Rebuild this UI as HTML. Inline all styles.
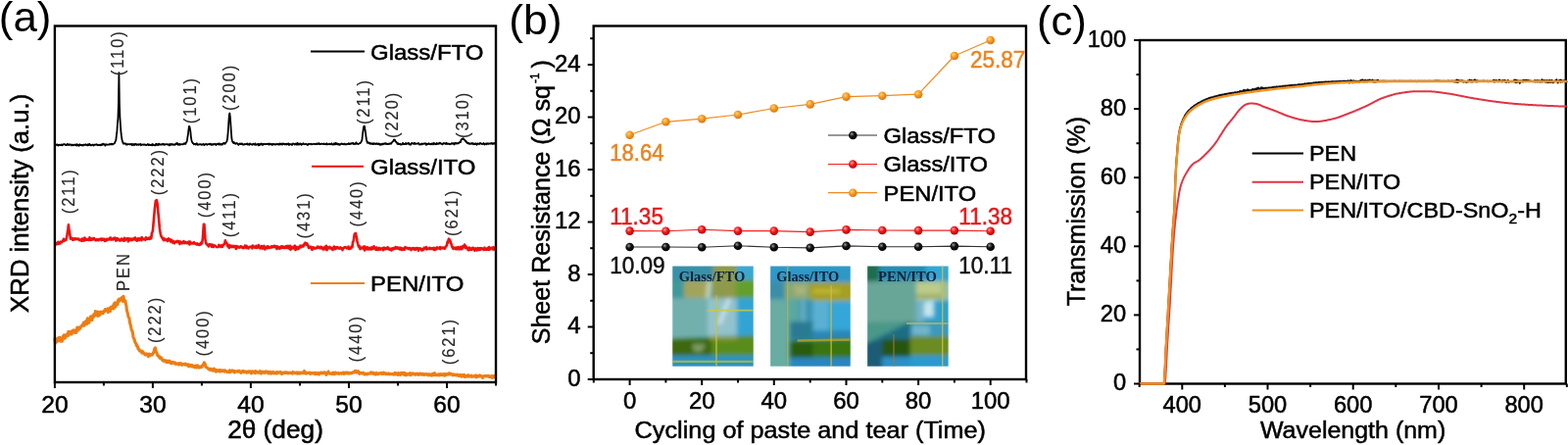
<!DOCTYPE html>
<html><head><meta charset="utf-8"><title>Figure</title>
<style>
html,body{margin:0;padding:0;background:#fff;}
body{width:1600px;height:454px;overflow:hidden;}
svg{display:block;font-family:"Liberation Sans", Arial, sans-serif;}
</style></head>
<body>
<svg width="1600" height="454" viewBox="0 0 1600 454">
<rect width="1600" height="454" fill="#fff"/>
<g fill="none" stroke-linejoin="round">
<polyline points="55.9,344.7 56.4,350.1 56.9,345.6 57.4,347.1 57.9,346.9 58.4,348.6 58.9,345.5 59.4,347.6 59.9,344.6 60.4,347.4 60.9,344.2 61.4,344.7 61.9,348.1 62.4,345.4 62.9,344.9 63.4,348.1 63.9,344.9 64.4,342.8 64.9,345.1 65.4,341.8 65.9,345.2 66.4,345.1 66.9,342 67.4,341.7 67.9,342.7 68.4,342.2 68.9,340.4 69.4,342.6 69.9,338.2 70.4,340.5 70.9,340.3 71.4,340.3 71.9,340.9 72.4,338.2 72.9,340.9 73.4,339.4 73.9,338.4 74.4,337 74.9,337 75.4,339.3 75.9,336.9 76.4,338.1 76.9,339.3 77.4,338.8 77.9,339.2 78.4,335.8 78.9,334 79.4,337 79.9,335.4 80.4,336.2 80.9,334 81.4,335.4 81.9,334.4 82.4,333.8 82.9,333 83.4,332.4 83.9,331.7 84.4,331.2 84.9,332 85.4,329.1 85.9,332.3 86.4,328.9 86.9,330.2 87.4,328.1 87.9,327.5 88.4,330.8 88.9,326.7 89.4,324.8 89.9,325.3 90.4,325.6 90.9,329.2 91.4,325.7 91.9,326.6 92.4,323.1 92.9,324.9 93.4,325.1 93.9,326.5 94.4,322.2 94.9,323.9 95.4,323.1 95.9,320.6 96.4,321.9 96.9,321.1 97.4,317.5 97.9,321.8 98.4,321.5 98.9,319.7 99.4,318.1 99.9,322.4 100.4,320.3 100.9,321.3 101.4,321.7 101.9,318.4 102.4,320.3 102.9,318.4 103.4,318.5 103.9,318.3 104.4,318.2 104.9,319.8 105.4,318 105.9,317.4 106.4,317 106.9,317.8 107.4,315.6 107.9,316 108.4,316.5 108.9,315.5 109.4,315.9 109.9,314.8 110.4,318.6 110.9,317.2 111.4,315.4 111.9,314.3 112.4,317.5 112.9,314.2 113.4,313.2 113.9,313.4 114.4,313.1 114.9,314.5 115.4,311.9 115.9,314.9 116.4,309.8 116.9,312 117.4,308.9 117.9,313 118.4,309.3 118.9,309.3 119.4,310.6 119.9,310.7 120.4,306.5 120.9,307.3 121.4,305.2 121.9,307.2 122.4,306.3 122.9,305.5 123.4,304.5 123.9,304.5 124.4,303.5 124.9,305.1 125.4,307.3 125.9,302.3 126.4,305.8 126.9,305.9 127.4,307.9 127.9,306.8 128.4,310.4 128.9,311.8 129.4,316.5 129.9,318.3 130.4,320 130.9,322.7 131.4,324 131.9,324.6 132.4,328.8 132.9,330.5 133.4,332.1 133.9,335.1 134.4,337.2 134.9,337.4 135.4,339.6 135.9,343.3 136.4,345.2 136.9,345.7 137.4,347.4 137.9,349.3 138.4,350.3 138.9,350.5 139.4,352.5 139.9,352.5 140.4,353.4 140.9,355.7 141.4,355.6 141.9,356.9 142.4,357.8 142.9,358.2 143.4,357.8 143.9,358.3 144.4,358.1 144.9,360.1 145.4,359.7 145.9,358.9 146.4,359.9 146.9,360.7 147.4,360.8 147.9,361.9 148.4,362 148.9,361 149.4,361.5 149.9,360.9 150.4,362 150.9,362.1 151.4,363.7 151.9,362.3 152.4,361.1 152.9,362 153.4,362.5 153.9,361.8 154.4,361.9 154.9,361.9 155.4,361.9 155.9,361.1 156.4,359.9 156.9,359.6 157.4,357.1 157.9,355.5 158.4,354.8 158.9,356.8 159.4,359.5 159.9,359.7 160.4,361.6 160.9,362.8 161.4,362.8 161.9,363.5 162.4,363.3 162.9,365.2 163.4,365.5 163.9,365.5 164.4,364.8 164.9,365.5 165.4,367 165.9,367.8 166.4,367.3 166.9,368.2 167.4,367.5 167.9,368.1 168.4,368.5 168.9,368.8 169.4,367.9 169.9,369.3 170.4,369.6 170.9,368.4 171.4,368.4 171.9,369.4 172.4,368.9 172.9,368.1 173.4,369.9 173.9,369.6 174.4,369.4 174.9,370.9 175.4,369.9 175.9,369.5 176.4,370.1 176.9,369.5 177.4,369.8 177.9,370.5 178.4,370 178.9,370.2 179.4,371.4 179.9,371.1 180.4,371.1 180.9,371.1 181.4,371.1 181.9,371.7 182.4,371 182.9,372.1 183.4,370.7 183.9,371.1 184.4,370.6 184.9,371.2 185.4,371.8 185.9,372.4 186.4,371.3 186.9,371.8 187.4,371.6 187.9,371.5 188.4,371.4 188.9,372.1 189.4,371.2 189.9,372.3 190.4,372.3 190.9,372 191.4,371.9 191.9,371.8 192.4,373.7 192.9,372 193.4,373.7 193.9,373.2 194.4,372.8 194.9,372.4 195.4,373.7 195.9,374.1 196.4,372.7 196.9,373.2 197.4,374 197.9,373.7 198.4,374.6 198.9,373.3 199.4,374 199.9,373.1 200.4,375 200.9,373.5 201.4,372.8 201.9,374 202.4,374.1 202.9,375.2 203.4,374 203.9,374.2 204.4,374.5 204.9,374.9 205.4,373.9 205.9,374.3 206.4,373.6 206.9,372.6 207.4,372 207.9,370.9 208.4,369.9 208.9,371.8 209.4,371.6 209.9,374.1 210.4,374.7 210.9,374.8 211.4,374.9 211.9,375.5 212.4,376.2 212.9,376.6 213.4,376.6 213.9,377.2 214.4,376.5 214.9,377.1 215.4,376.3 215.9,377.7 216.4,377.5 216.9,377.3 217.4,378.2 217.9,378 218.4,376.2 218.9,377.8 219.4,377 219.9,378.4 220.4,379.2 220.9,377.6 221.4,378 221.9,377.9 222.4,378.2 222.9,378.4 223.4,378.8 223.9,377.6 224.4,379 224.9,377.7 225.4,378.4 225.9,378.9 226.4,378.7 226.9,377.8 227.4,378 227.9,378.2 228.4,378.4 228.9,379.1 229.4,377.8 229.9,378.8 230.4,378.9 230.9,378.9 231.4,378.9 231.9,379.5 232.4,379 232.9,379.2 233.4,379.1 233.9,379.8 234.4,377.8 234.9,379.6 235.4,378.8 235.9,378.8 236.4,378.4 236.9,378 237.4,378.8 237.9,378.7 238.4,379.3 238.9,378.3 239.4,379.9 239.9,379.3 240.4,379.1 240.9,378.8 241.4,378.8 241.9,378.6 242.4,378.9 242.9,379.3 243.4,379.2 243.9,378.5 244.4,379.1 244.9,378.8 245.4,379.4 245.9,380.3 246.4,379.7 246.9,379.2 247.4,378.5 247.9,378.6 248.4,378.5 248.9,379.8 249.4,379 249.9,379.5 250.4,379.1 250.9,379.5 251.4,380.2 251.9,379.1 252.4,379.3 252.9,379.1 253.4,380 253.9,379 254.4,378.9 254.9,378.8 255.4,378.8 255.9,379.8 256.4,381 256.9,379.1 257.4,380.1 257.9,379.8 258.4,379 258.9,379.5 259.4,379.5 259.9,379.3 260.4,380.7 260.9,378.7 261.4,379.9 261.9,379.9 262.4,379.4 262.9,379.8 263.4,380.2 263.9,379.8 264.4,380 264.9,380.2 265.4,378.7 265.9,380.6 266.4,381 266.9,380.4 267.4,380.4 267.9,379.1 268.4,379.8 268.9,379.4 269.4,379.6 269.9,380.4 270.4,379.5 270.9,379.9 271.4,378.9 271.9,379.9 272.4,380 272.9,379.6 273.4,379.6 273.9,381 274.4,379.4 274.9,379.5 275.4,379.6 275.9,380.7 276.4,381.2 276.9,380.3 277.4,379.7 277.9,379.9 278.4,380.7 278.9,379.6 279.4,380.9 279.9,380.9 280.4,380.2 281,380.5 281.5,380.6 282,381 282.5,379.6 283,380.8 283.5,380 284,379.8 284.5,380.3 285,380.2 285.5,379.8 286,379.4 286.5,379.8 287,381.1 287.5,381.4 288,380.7 288.5,381 289,380.1 289.5,380.3 290,380.5 290.5,379.8 291,379.8 291.5,380.4 292,380.2 292.5,379.8 293,380.6 293.5,380.2 294,380.9 294.5,380.4 295,380.2 295.5,380.5 296,380.3 296.5,380.1 297,380.2 297.5,380.8 298,380.8 298.5,381.1 299,379.5 299.5,380.2 300,380.2 300.5,380.5 301,380.2 301.5,380.2 302,380.9 302.5,380.6 303,379.9 303.5,381.2 304,381 304.5,380.2 305,380.9 305.5,380.1 306,381.1 306.5,380.4 307,380.1 307.5,380.3 308,380.1 308.5,380.6 309,380.6 309.5,380.6 310,380.3 310.5,378.6 311,380.6 311.5,379.6 312,380.7 312.5,381.2 313,380.7 313.5,380.4 314,380.5 314.5,380.5 315,380.3 315.5,380.3 316,380.1 316.5,381.3 317,380.6 317.5,381.2 318,380.5 318.5,380.7 319,380.6 319.5,380.9 320,381.1 320.5,380.8 321,380.3 321.5,380.3 322,381.6 322.5,380.6 323,380.6 323.5,381.5 324,381.3 324.5,381 325,380.5 325.5,382 326,381 326.5,381 327,380.7 327.5,380 328,380.1 328.5,381 329,381 329.5,380.7 330,380.2 330.5,380 331,380.6 331.5,380 332,381.3 332.5,381.4 333,382.3 333.5,381.3 334,380.5 334.5,380.4 335,379 335.5,380.5 336,380.7 336.5,381.3 337,381.2 337.5,381.1 338,381 338.5,381.2 339,381.6 339.5,380.3 340,380.6 340.5,380.1 341,381.7 341.5,381.5 342,381.3 342.5,380.2 343,381 343.5,380.7 344,380.9 344.5,380.8 345,381.1 345.5,380.7 346,381.3 346.5,381 347,380.7 347.5,380.8 348,380.7 348.5,381.3 349,380.7 349.5,381 350,380.7 350.5,380.1 351,381.4 351.5,380.3 352,381.2 352.5,381.1 353,380 353.5,380.4 354,380.6 354.5,380.4 355,380.2 355.5,381.2 356,380.7 356.5,381 357,380.5 357.5,380.9 358,380.3 358.5,380.6 359,380.8 359.5,380.4 360,380 360.5,379.5 361,379.9 361.5,379.6 362,378.9 362.5,378.3 363,378.8 363.5,380 364,378.9 364.5,379.6 365,380 365.5,378.7 366,380.3 366.5,380.1 367,381.3 367.5,380.5 368,380.3 368.5,380.7 369,380.9 369.5,380.6 370,380.9 370.5,380.2 371,380.8 371.5,381.4 372,382 372.5,381.4 373,381.1 373.5,381.6 374,381.6 374.5,381.9 375,381.6 375.5,381 376,381.2 376.5,381.2 377,381.2 377.5,381.2 378,380.7 378.5,380 379,380.8 379.5,380.1 380,381.2 380.5,381.1 381,380.3 381.5,381.5 382,381.6 382.5,381.2 383,382 383.5,382.1 384,380.5 384.5,381.7 385,381.4 385.5,381.4 386,381.7 386.5,380.8 387,380.9 387.5,380.8 388,380.8 388.5,381.1 389,380.5 389.5,380.7 390,381.5 390.5,381.2 391,381.4 391.5,380.2 392,380.8 392.5,380.9 393,381.3 393.5,380.9 394,381.7 394.5,381.2 395,381.3 395.5,381.3 396,381.6 396.5,381 397,381.8 397.5,381.5 398,381.4 398.5,381.3 399,381.6 399.5,381.8 400,381.8 400.5,381.5 401,381.8 401.5,381.4 402,382 402.5,381.3 403,380.3 403.5,382 404,381.4 404.5,380.8 405,381.3 405.5,380.9 406,382.5 406.5,381.7 407,380.6 407.5,381.7 408,381.2 408.5,382.4 409,380.9 409.5,380.3 410,381.5 410.5,381.3 411,381.3 411.5,380.4 412,381.7 412.5,382.4 413,380.5 413.5,382.1 414,381.2 414.5,382.8 415,381.8 415.5,381.5 416,382.1 416.5,381.9 417,381.3 417.5,382 418,381.3 418.5,380.7 419,382.7 419.5,381.5 420,381.3 420.5,381.8 421,380.9 421.5,381 422,381.4 422.5,381.4 423,381.7 423.5,382.3 424,381.5 424.5,382 425,382 425.5,381.2 426,381.9 426.5,381.3 427,382.3 427.5,382 428,381.8 428.5,381.1 429,381.9 429.5,381.4 430,382.2 430.5,381.8 431,381.4 431.5,382.3 432,382.2 432.5,381.6 433,382.5 433.5,381.7 434,381.7 434.5,382 435,381.5 435.5,381.7 436,381.8 436.5,382.7 437,382.7 437.5,381.8 438,382.8 438.5,381.9 439,382.2 439.5,382.4 440,382.1 440.5,383.2 441,382.1 441.5,381.4 442,382.7 442.5,381.9 443,381.9 443.5,380.6 444,382.6 444.5,382.5 445,382.6 445.5,382.7 446,383 446.5,382.2 447,382.7 447.5,381.8 448,382.1 448.5,382.8 449,382.5 449.5,381.6 450,382.5 450.5,382.2 451,381.9 451.5,382.5 452,382.1 452.5,381.5 453,381.8 453.5,383.2 454,381.5 454.5,382.4 455,382.6 455.5,382.5 456,381.5 456.5,381.8 457,381.9 457.5,382.1 458,381.1 458.5,380.7 459,381.7 459.5,381.9 460,381.7 460.5,381.5 461,382.2 461.5,382.2 462,382.8 462.5,381.8 463,382.6 463.5,382.5 464,382.1 464.5,382.8 465,382.8 465.5,382.6 466,383 466.5,382.1 467,382.9 467.5,383.1 468,383.1 468.5,383.5 469,382.4 469.5,382.3 470,383.2 470.5,383.3 471,384.2 471.5,383.4 472,382.7 472.5,383.6 473,382.7 473.5,382.4 474,384.5 474.5,383.4 475,383.6 475.5,383.6 476,384.2 476.5,383.4 477,383.9 477.5,382.8 478,382.7 478.5,384.1 479,384.1 479.5,383.7 480,383.6 480.5,383.5 481,383.1 481.5,384.3 482,383.8 482.5,383.8 483,383.7 483.5,384.1 484,383.8 484.5,384 485,383 485.5,383.9 486,384.8 486.5,383.4 487,383.6 487.5,384.2 488,384.2 488.5,384.1 489,383 489.5,384 490,383.2 490.5,383.4 491,384.1 491.5,383.7 492,384.3 492.5,385.5 493,384.3 493.5,384.3 494,383.5 494.5,383.7 495,383.5 495.5,383.7 496,383.5 496.5,383.7 497,384 497.5,383.6 498,383.4 498.5,383.4 499,384.4 499.5,384.2 500,384.7 500.5,384.7 501,384 501.5,384.6 502,383.5 502.5,385.4 503,384.9 503.5,384.2 504,383.7 504.5,384.5 505,383.4 505.5,384 506,384.8" stroke="#ee7d12" stroke-width="3.1"/>
<polyline points="55.9,250.3 56.4,249.9 56.9,248 57.4,248.7 57.9,248.1 58.4,248 58.9,249.1 59.4,246.7 59.9,248.5 60.4,247.5 60.9,248.6 61.4,247.5 61.9,246.7 62.4,247.2 62.9,247.3 63.4,246.4 63.9,246.5 64.4,245.4 64.9,243.8 65.4,245.8 65.9,245.3 66.4,244.7 66.9,244.4 67.4,244.8 67.9,242.7 68.4,240.4 68.9,236.9 69.4,233.5 69.9,229.4 70.4,233.4 70.9,236.3 71.4,239.7 71.9,243.6 72.4,243.2 72.9,242.5 73.4,243.4 73.9,244.5 74.4,244.7 74.9,243.4 75.4,244.1 75.9,244.4 76.4,243.3 76.9,244.2 77.4,243.9 77.9,243.5 78.4,243.6 78.9,244.1 79.4,244 79.9,243.6 80.4,243.7 80.9,245 81.4,244.3 81.9,244.8 82.4,245.1 82.9,244.6 83.4,245.9 83.9,243.5 84.4,244.8 84.9,243.9 85.4,245.6 85.9,245.5 86.4,242.6 86.9,243.4 87.4,244.7 87.9,244.8 88.4,244.8 88.9,244.1 89.4,244.6 89.9,244.7 90.4,244.1 90.9,245 91.4,242.4 91.9,244.7 92.4,243.4 92.9,245 93.4,244 93.9,243.5 94.4,244.5 94.9,243.5 95.4,243.5 95.9,243 96.4,244.2 96.9,244.6 97.4,245.1 97.9,244.1 98.4,245.1 98.9,244.3 99.4,244.2 99.9,244.7 100.4,245.1 100.9,244 101.4,244.1 101.9,244.1 102.4,244.3 102.9,243.5 103.4,245.1 103.9,243.9 104.4,244.6 104.9,243.6 105.4,244.6 105.9,244.6 106.4,243.9 106.9,245.9 107.4,244.6 107.9,245.7 108.4,245.1 108.9,243.8 109.4,244 109.9,244.6 110.4,244.3 110.9,244.3 111.4,244.1 111.9,242.8 112.4,244.1 112.9,242.5 113.4,244.6 113.9,243.7 114.4,243.7 114.9,244.1 115.4,244.5 115.9,243.2 116.4,242.9 116.9,243.5 117.4,242.7 117.9,243.5 118.4,245.6 118.9,243.5 119.4,244.8 119.9,243.2 120.4,244.6 120.9,244.1 121.4,244.3 121.9,244.8 122.4,245.7 122.9,244.5 123.4,244.4 123.9,243.5 124.4,244.8 124.9,244.1 125.4,245 125.9,244.3 126.4,245.7 126.9,242.7 127.4,244.1 127.9,245 128.4,244 128.9,243.7 129.4,244.1 129.9,243.2 130.4,244.4 130.9,246.3 131.4,245.2 131.9,243.4 132.4,243.6 132.9,244 133.4,245.1 133.9,243.6 134.4,243.7 134.9,245 135.4,245 135.9,244 136.4,243.4 136.9,243 137.4,243.7 137.9,242.5 138.4,244.9 138.9,243.8 139.4,244.6 139.9,245.7 140.4,245.2 140.9,243.3 141.4,244.9 141.9,245.1 142.4,243.6 142.9,243.4 143.4,244.1 143.9,242.9 144.4,245.3 144.9,242.2 145.4,243.2 145.9,243.9 146.4,243.9 146.9,244.2 147.4,244.2 147.9,243.8 148.4,244.8 148.9,242.2 149.4,243.8 149.9,243.2 150.4,243.8 150.9,243.8 151.4,242.8 151.9,242.9 152.4,243.9 152.9,243.3 153.4,242 153.9,243.5 154.4,242.6 154.9,238 155.4,237 155.9,235.4 156.4,229.8 156.9,224.4 157.4,218.6 157.9,212.9 158.4,208.4 158.9,204.8 159.4,204.4 159.9,204.2 160.4,206.8 160.9,210.4 161.4,216.6 161.9,221.5 162.4,227.3 162.9,232.9 163.4,236.1 163.9,239 164.4,240.8 164.9,241.9 165.4,242.6 165.9,243 166.4,244.3 166.9,243.1 167.4,245.2 167.9,244.4 168.4,243.9 168.9,244.2 169.4,244.2 169.9,245 170.4,244.4 170.9,246 171.4,244.5 171.9,243.4 172.4,244.8 172.9,243.8 173.4,245.5 173.9,246.5 174.4,246.2 174.9,244.7 175.4,245.3 175.9,247.4 176.4,246.3 176.9,246.1 177.4,247 177.9,248.2 178.4,247.4 178.9,246.5 179.4,246.8 179.9,247 180.4,246.1 180.9,245.8 181.4,246.8 181.9,246.1 182.4,246.8 182.9,247 183.4,248.9 183.9,246.4 184.4,247.1 184.9,247.1 185.4,247.6 185.9,248.2 186.4,247 186.9,246.8 187.4,246.2 187.9,246.8 188.4,248.1 188.9,247.7 189.4,246.9 189.9,247.5 190.4,247.9 190.9,248.3 191.4,247.5 191.9,247.8 192.4,246.6 192.9,247.2 193.4,249.5 193.9,246.5 194.4,248 194.9,248.5 195.4,248.1 195.9,247.8 196.4,248.4 196.9,248.5 197.4,248.5 197.9,247.1 198.4,248.5 198.9,248 199.4,248.3 199.9,248.9 200.4,249.3 200.9,249.5 201.4,248.4 201.9,249.6 202.4,249.8 202.9,249.7 203.4,249.9 203.9,248.7 204.4,248.6 204.9,249.3 205.4,247.4 205.9,248.4 206.4,246.6 206.9,243.1 207.4,235 207.9,228.7 208.4,228.7 208.9,235.7 209.4,243.4 209.9,246.9 210.4,248.5 210.9,248.5 211.4,249.8 211.9,249.5 212.4,250.3 212.9,251.4 213.4,250.1 213.9,249.1 214.4,249.7 214.9,249.3 215.4,249.7 215.9,251.8 216.4,250.9 216.9,249.6 217.4,251.3 217.9,251.9 218.4,250.6 218.9,250.4 219.4,250.7 219.9,251.2 220.4,251.5 220.9,251.9 221.4,252 221.9,252 222.4,252.1 222.9,251.6 223.4,249.9 223.9,251 224.4,251.4 224.9,250.8 225.4,251.8 225.9,250.8 226.4,250.2 226.9,251.8 227.4,250.8 227.9,249.8 228.4,249.6 228.9,248.9 229.4,247.8 229.9,245.3 230.4,247 230.9,247.8 231.4,248.1 231.9,249.9 232.4,251.3 232.9,250.5 233.4,250.2 233.9,252.9 234.4,251 234.9,250.4 235.4,251.6 235.9,251.8 236.4,250.9 236.9,252.1 237.4,251.1 237.9,250.8 238.4,251.7 238.9,252.2 239.4,251 239.9,251.8 240.4,251.5 240.9,253.9 241.4,251 241.9,252.7 242.4,251.6 242.9,251.5 243.4,252.2 243.9,252.4 244.4,252.7 244.9,252 245.4,251.2 245.9,251.3 246.4,252.1 246.9,252.2 247.4,252.9 247.9,252.1 248.4,252.6 248.9,253 249.4,251.9 249.9,250.6 250.4,250.9 250.9,250.7 251.4,253.1 251.9,251.2 252.4,252.9 252.9,252.4 253.4,253.3 253.9,252.7 254.4,251.9 254.9,251.8 255.4,252 255.9,252.1 256.4,251.6 256.9,252 257.4,253.3 257.9,250.6 258.4,252.2 258.9,251.3 259.4,252.2 259.9,252.7 260.4,252 260.9,252.7 261.4,250.8 261.9,253 262.4,251.6 262.9,252.6 263.4,252.2 263.9,250 264.4,251.5 264.9,252.3 265.4,253.4 265.9,252.4 266.4,252.4 266.9,251 267.4,253.3 267.9,253.6 268.4,252.2 268.9,252 269.4,250.9 269.9,252.9 270.4,254.4 270.9,252.8 271.4,253.2 271.9,252.7 272.4,251.5 272.9,253.3 273.4,251.3 273.9,252.1 274.4,252.5 274.9,253 275.4,252.6 275.9,252.6 276.4,251.7 276.9,251.3 277.4,252.4 277.9,251.8 278.4,251.3 278.9,251.3 279.4,252 279.9,250.9 280.4,251.3 281,251.1 281.5,252.5 282,252.7 282.5,254 283,251.2 283.5,251.9 284,253.2 284.5,252.3 285,252.2 285.5,253.8 286,252.2 286.5,251.5 287,251.4 287.5,252.8 288,252.7 288.5,251.4 289,251.7 289.5,252.9 290,253 290.5,252 291,253 291.5,253 292,251.1 292.5,252.3 293,252.9 293.5,252.1 294,250.9 294.5,252.4 295,253.2 295.5,253.9 296,250.9 296.5,254.7 297,251.7 297.5,253.4 298,253.6 298.5,253.4 299,252.8 299.5,251.7 300,253.2 300.5,252.1 301,250.7 301.5,255 302,253.3 302.5,254.2 303,252 303.5,253.9 304,254 304.5,254 305,252.7 305.5,251.7 306,252.5 306.5,250.7 307,251 307.5,252.1 308,250.8 308.5,251 309,250.5 309.5,251.5 310,250.4 310.5,248.8 311,249.4 311.5,247.7 312,248.2 312.5,249.5 313,248.3 313.5,249.7 314,249.5 314.5,251.3 315,253 315.5,251.5 316,252.6 316.5,251.9 317,251.8 317.5,251.8 318,254 318.5,254.8 319,253.3 319.5,252.3 320,253.5 320.5,252.6 321,253.6 321.5,253.2 322,253.2 322.5,253.4 323,252.5 323.5,252.6 324,251.6 324.5,252.6 325,251.8 325.5,252.8 326,252.2 326.5,253 327,253.3 327.5,251.8 328,252.3 328.5,252.2 329,253.6 329.5,254.4 330,253.7 330.5,252.7 331,254.2 331.5,251.8 332,254.2 332.5,252.5 333,250.8 333.5,255.1 334,254.3 334.5,252.2 335,253.2 335.5,252.9 336,253.1 336.5,251.9 337,252.5 337.5,253.4 338,253.2 338.5,254 339,253.1 339.5,254.9 340,252.5 340.5,253.3 341,251.5 341.5,252.1 342,254.1 342.5,252.3 343,253.5 343.5,253 344,252.2 344.5,252.8 345,252.6 345.5,252.7 346,253.7 346.5,253.6 347,252.6 347.5,252.3 348,253.3 348.5,253 349,253.8 349.5,255.1 350,253.7 350.5,253 351,252.8 351.5,252.3 352,252.2 352.5,252.1 353,252.6 353.5,252.5 354,253.4 354.5,252.5 355,252.6 355.5,251.7 356,253.9 356.5,253 357,253.9 357.5,253 358,253.3 358.5,251.5 359,251.6 359.5,252 360,247 360.5,246.4 361,243.9 361.5,240.1 362,238.5 362.5,238.4 363,238 363.5,241.2 364,243 364.5,246 365,248.3 365.5,250.3 366,251.6 366.5,252.4 367,251.1 367.5,254.1 368,253.6 368.5,253.3 369,252.5 369.5,252.8 370,253.4 370.5,253.3 371,251.6 371.5,253.7 372,255.5 372.5,251.6 373,254 373.5,253.5 374,253.1 374.5,254.4 375,252.3 375.5,253.4 376,254.5 376.5,253.2 377,253 377.5,253.4 378,253 378.5,254.6 379,252.6 379.5,254.1 380,252.4 380.5,254 381,253.3 381.5,251.3 382,253.4 382.5,252.6 383,253.1 383.5,254.7 384,252.6 384.5,252.6 385,254.7 385.5,253.6 386,254.8 386.5,253.8 387,252.8 387.5,253.5 388,254.6 388.5,254.3 389,253.6 389.5,253.6 390,253.5 390.5,253.1 391,255.2 391.5,253.6 392,252.7 392.5,253.2 393,254.2 393.5,254.2 394,253.5 394.5,253.1 395,253.7 395.5,252.3 396,252.6 396.5,254.3 397,253.3 397.5,254 398,254.7 398.5,254.2 399,253.7 399.5,255.4 400,254.3 400.5,253.4 401,254.3 401.5,254.1 402,253 402.5,253.8 403,253.6 403.5,252.1 404,253.6 404.5,253.5 405,253.4 405.5,252.4 406,253.5 406.5,253.7 407,253.9 407.5,252.8 408,254.3 408.5,252.8 409,253.6 409.5,254.9 410,253.2 410.5,253.4 411,254.7 411.5,253.5 412,253.5 412.5,254 413,254.6 413.5,252 414,253.1 414.5,253 415,252.9 415.5,253.1 416,253.1 416.5,254 417,253.1 417.5,253.9 418,254.1 418.5,253.2 419,253.9 419.5,255.1 420,254.1 420.5,253.3 421,253.7 421.5,253.1 422,254 422.5,254.5 423,253.1 423.5,253.6 424,254.7 424.5,253.4 425,254 425.5,253 426,253.1 426.5,253.4 427,255.6 427.5,253.5 428,253.4 428.5,253.4 429,253.7 429.5,254.3 430,254 430.5,255.5 431,254 431.5,255 432,254 432.5,254.3 433,252.7 433.5,253.7 434,253.8 434.5,253.6 435,252.1 435.5,254.5 436,253.5 436.5,253.5 437,253.6 437.5,253.6 438,254.1 438.5,252.8 439,253.1 439.5,254 440,253.9 440.5,253.5 441,253.3 441.5,253.1 442,253.7 442.5,254.7 443,252.9 443.5,255 444,254.5 444.5,253.4 445,254.4 445.5,252.6 446,252.4 446.5,252.7 447,253.4 447.5,253.5 448,253.3 448.5,253.8 449,252 449.5,254.1 450,252.5 450.5,253.1 451,253.3 451.5,252.7 452,252.5 452.5,252.7 453,253.4 453.5,253.8 454,253.6 454.5,252 455,251.6 455.5,250.6 456,250.4 456.5,246.9 457,247.9 457.5,245 458,243.7 458.5,244.2 459,245.1 459.5,245.7 460,247.8 460.5,248.7 461,251.1 461.5,252.3 462,252.1 462.5,253.9 463,253.3 463.5,253.4 464,252.7 464.5,253.3 465,254.2 465.5,252.6 466,254.2 466.5,254 467,253.9 467.5,252 468,253.7 468.5,254.3 469,253.2 469.5,253.8 470,251.9 470.5,254.3 471,253.1 471.5,254 472,251.3 472.5,252.6 473,251.1 473.5,251.3 474,249.6 474.5,250.1 475,253.1 475.5,251.5 476,252.3 476.5,253.1 477,252.8 477.5,254.8 478,255.2 478.5,253.3 479,252.5 479.5,254.8 480,254.8 480.5,254.6 481,254.8 481.5,253.2 482,253.8 482.5,252.8 483,252.8 483.5,254.7 484,253.4 484.5,255.7 485,254 485.5,253.4 486,254.6 486.5,255.4 487,254.3 487.5,253 488,254.2 488.5,255 489,253.5 489.5,253.3 490,254.8 490.5,254.1 491,253.1 491.5,253.6 492,253.3 492.5,254.2 493,254 493.5,254.9 494,254.5 494.5,252.7 495,254.3 495.5,254.7 496,254.3 496.5,254.8 497,253.5 497.5,253.2 498,254.7 498.5,253.1 499,252.2 499.5,254.8 500,253.4 500.5,253.7 501,252.9 501.5,252.9 502,253.1 502.5,253.7 503,254.3 503.5,252.1 504,254.6 504.5,253 505,253.1 505.5,254.5 506,253.9" stroke="#f01010" stroke-width="2.6"/>
<polyline points="55.9,148 56.4,148.1 56.9,147.9 57.4,147.6 57.9,147.8 58.4,147.5 58.9,148 59.4,148.6 59.9,147.7 60.4,147.7 60.9,148.2 61.4,148.1 61.9,148 62.4,147.5 62.9,147.9 63.4,148.3 63.9,147.4 64.4,147.7 64.9,147.1 65.4,147.4 65.9,147.1 66.4,147.8 66.9,147.4 67.4,148.1 67.9,148 68.4,147.9 68.9,146.8 69.4,147.7 69.9,147.9 70.4,148 70.9,147.2 71.4,147.7 71.9,147.5 72.4,147.6 72.9,148.4 73.4,147.6 73.9,147.9 74.4,148.3 74.9,147.6 75.4,147.9 75.9,148 76.4,147.9 76.9,147.4 77.4,147.9 77.9,148.5 78.4,147.2 78.9,148.3 79.4,147.9 79.9,147.6 80.4,148.8 80.9,148.2 81.4,147.3 81.9,147.9 82.4,148.1 82.9,147.8 83.4,148.2 83.9,147.8 84.4,148.2 84.9,148.5 85.4,147.6 85.9,147.9 86.4,147.6 86.9,147.9 87.4,147.3 87.9,147.6 88.4,147.8 88.9,148.2 89.4,148.4 89.9,147.2 90.4,147.5 90.9,148.1 91.4,146.9 91.9,147.6 92.4,147.8 92.9,148.4 93.4,148.1 93.9,147.7 94.4,147.6 94.9,147.7 95.4,148.5 95.9,147.6 96.4,147.6 96.9,147.9 97.4,147.7 97.9,147.7 98.4,147.3 98.9,147.8 99.4,147.6 99.9,148.3 100.4,148 100.9,147.7 101.4,148 101.9,147.6 102.4,148.2 102.9,147.7 103.4,148 103.9,147.1 104.4,147.8 104.9,146.9 105.4,146.7 105.9,147.5 106.4,147.2 106.9,147.7 107.4,148.6 107.9,147.2 108.4,147.3 108.9,147.6 109.4,147.7 109.9,147.4 110.4,147.4 110.9,147.7 111.4,147.6 111.9,146.9 112.4,147.3 112.9,147.3 113.4,146.7 113.9,147.3 114.4,146.7 114.9,147.4 115.4,147 115.9,146.8 116.4,146.3 116.9,146.2 117.4,144.7 117.9,143.9 118.4,142.4 118.9,137.7 119.4,133.9 119.9,126.3 120.4,120.8 120.9,105.5 121.4,74.1 121.9,106 122.4,119.7 122.9,127.6 123.4,134.1 123.9,138.7 124.4,142.1 124.9,144.3 125.4,145.2 125.9,146.7 126.4,146.3 126.9,146.7 127.4,146.5 127.9,146.6 128.4,146.4 128.9,147.6 129.4,147.1 129.9,147.6 130.4,147.2 130.9,147 131.4,147.2 131.9,147.1 132.4,147.4 132.9,147.2 133.4,147.3 133.9,146.8 134.4,147.1 134.9,148.2 135.4,147.2 135.9,147 136.4,147.7 136.9,148.2 137.4,146.9 137.9,147.5 138.4,147.3 138.9,146.8 139.4,147.9 139.9,147.6 140.4,147.6 140.9,147.2 141.4,147.8 141.9,147.3 142.4,147.5 142.9,147.1 143.4,147 143.9,148.2 144.4,147.4 144.9,147.7 145.4,147.6 145.9,147.4 146.4,147.4 146.9,147.9 147.4,147.5 147.9,147.5 148.4,147.6 148.9,148.1 149.4,147.9 149.9,147.8 150.4,147.4 150.9,147 151.4,148 151.9,148 152.4,147.5 152.9,147.8 153.4,148 153.9,148 154.4,148 154.9,147.4 155.4,148.3 155.9,147 156.4,148 156.9,147.8 157.4,148 157.9,148.4 158.4,148.3 158.9,147.1 159.4,146.8 159.9,148 160.4,147.1 160.9,147.6 161.4,148 161.9,146.8 162.4,146.6 162.9,147.7 163.4,147.6 163.9,147.5 164.4,147.6 164.9,147.2 165.4,146.9 165.9,147.5 166.4,147.1 166.9,146.8 167.4,147.8 167.9,147.5 168.4,147.7 168.9,147.1 169.4,147.2 169.9,147.1 170.4,147.1 170.9,147.6 171.4,147.2 171.9,147.7 172.4,147.7 172.9,148.4 173.4,146.9 173.9,147.9 174.4,147.4 174.9,147.5 175.4,146.8 175.9,147.3 176.4,147.8 176.9,147.4 177.4,147.5 177.9,147.3 178.4,147.9 178.9,147.4 179.4,146.4 179.9,147.1 180.4,146.5 180.9,145.9 181.4,147.1 181.9,147.9 182.4,147.3 182.9,146.8 183.4,146.8 183.9,147.7 184.4,147.3 184.9,147.2 185.4,147.1 185.9,147.1 186.4,147.4 186.9,147.2 187.4,147 187.9,146.3 188.4,146.9 188.9,146.3 189.4,146.9 189.9,145.4 190.4,145 190.9,143.4 191.4,139.8 191.9,137.1 192.4,132.7 192.9,128.8 193.4,129.1 193.9,131.4 194.4,134.3 194.9,139.8 195.4,142.9 195.9,144.9 196.4,145.3 196.9,146.2 197.4,146.4 197.9,147.2 198.4,146.9 198.9,146.8 199.4,147.6 199.9,146.7 200.4,146.8 200.9,146.2 201.4,147.8 201.9,147.5 202.4,147.6 202.9,147.5 203.4,147.2 203.9,147.3 204.4,147.1 204.9,147.1 205.4,147.3 205.9,147.9 206.4,147.5 206.9,147.2 207.4,147 207.9,147 208.4,148 208.9,147.5 209.4,147.3 209.9,147.1 210.4,146.8 210.9,147.3 211.4,147.7 211.9,147.1 212.4,147.2 212.9,147.2 213.4,147.3 213.9,146.6 214.4,147.2 214.9,146.9 215.4,147.7 215.9,146.9 216.4,147.5 216.9,147.9 217.4,147.1 217.9,147 218.4,147.3 218.9,147.2 219.4,146.8 219.9,147.4 220.4,148.1 220.9,147 221.4,147 221.9,146.6 222.4,147.2 222.9,146.5 223.4,146.5 223.9,147.6 224.4,146.6 224.9,147.4 225.4,147.6 225.9,147 226.4,147 226.9,147.6 227.4,146.6 227.9,146.3 228.4,145.8 228.9,146.3 229.4,146.9 229.9,146.5 230.4,145.4 230.9,145 231.4,144.3 231.9,142.6 232.4,138.2 232.9,131.8 233.4,123.9 233.9,117.1 234.4,115.5 234.9,119.5 235.4,126.9 235.9,134.9 236.4,141.1 236.9,143.7 237.4,145 237.9,144.8 238.4,146.1 238.9,145.2 239.4,145.6 239.9,146.7 240.4,146.8 240.9,146.5 241.4,145.9 241.9,146.5 242.4,146.5 242.9,147.1 243.4,147.9 243.9,147 244.4,146.6 244.9,146.5 245.4,147 245.9,147 246.4,146.5 246.9,147.1 247.4,146.6 247.9,147.6 248.4,147.6 248.9,147.6 249.4,146.9 249.9,147.4 250.4,147.1 250.9,147 251.4,147 251.9,146.6 252.4,146.5 252.9,147.6 253.4,147.1 253.9,147.3 254.4,147.7 254.9,146.4 255.4,146.9 255.9,147.3 256.4,147.4 256.9,147.1 257.4,147.7 257.9,147.3 258.4,146.7 258.9,146.8 259.4,147.6 259.9,147.4 260.4,146.4 260.9,147.8 261.4,147.5 261.9,147.8 262.4,147.1 262.9,147.1 263.4,146.7 263.9,148.4 264.4,147.2 264.9,148 265.4,147 265.9,147.3 266.4,146.5 266.9,147.1 267.4,147.7 267.9,146.7 268.4,147.7 268.9,147.4 269.4,146.8 269.9,147 270.4,147 270.9,147.2 271.4,147 271.9,146.9 272.4,147.1 272.9,146.8 273.4,146.7 273.9,147.2 274.4,147.6 274.9,146.5 275.4,147.2 275.9,146.9 276.4,146.8 276.9,147.6 277.4,147 277.9,147.9 278.4,146.9 278.9,147.4 279.4,147.1 279.9,146.9 280.4,147.5 281,147.1 281.5,147.5 282,147.2 282.5,146.7 283,147.2 283.5,147.2 284,147.6 284.5,146.8 285,147.2 285.5,146.4 286,147.5 286.5,146.7 287,146.4 287.5,147.2 288,147.7 288.5,146.5 289,146.7 289.5,146.9 290,146.7 290.5,147.4 291,146.8 291.5,146.9 292,147.5 292.5,146.8 293,147.4 293.5,146.7 294,146.6 294.5,146.4 295,148 295.5,147 296,147.3 296.5,147.2 297,147.2 297.5,147.2 298,148 298.5,146.7 299,146.5 299.5,146.7 300,146.6 300.5,147.5 301,147.5 301.5,146.7 302,146.5 302.5,147 303,147.8 303.5,145.9 304,147.4 304.5,146.7 305,147.6 305.5,146.7 306,147 306.5,146.5 307,146.7 307.5,147.8 308,147.5 308.5,147 309,146.7 309.5,146.3 310,147 310.5,147.1 311,147.1 311.5,147.1 312,146.6 312.5,147.1 313,147.1 313.5,147.7 314,148 314.5,147.1 315,146.8 315.5,147.1 316,146.8 316.5,146.8 317,147.1 317.5,146.6 318,147.4 318.5,147.1 319,147.2 319.5,147 320,146.8 320.5,146.7 321,147 321.5,146.8 322,147.2 322.5,147.1 323,146.5 323.5,147.1 324,146.5 324.5,146.8 325,146.9 325.5,146.1 326,147.1 326.5,147.1 327,147 327.5,146.9 328,146.9 328.5,146.6 329,146.9 329.5,146.8 330,147.1 330.5,146.5 331,147.2 331.5,147.1 332,147 332.5,146.9 333,147.3 333.5,146.3 334,147.3 334.5,147.2 335,147.2 335.5,147.2 336,146.7 336.5,146.9 337,147.3 337.5,147.2 338,147.1 338.5,146.3 339,147.3 339.5,147.5 340,147.5 340.5,147.1 341,146.3 341.5,147.4 342,146.9 342.5,145.9 343,147.2 343.5,146.3 344,146.4 344.5,146.7 345,147.6 345.5,146.8 346,147.1 346.5,147.8 347,147.7 347.5,146.9 348,146.9 348.5,146.4 349,146.6 349.5,147.1 350,147.1 350.5,147 351,147.4 351.5,146.6 352,146.9 352.5,147.3 353,147.2 353.5,147.4 354,147.1 354.5,146.8 355,147.1 355.5,146.4 356,146.1 356.5,147.1 357,146.8 357.5,147 358,146.1 358.5,146.7 359,146.5 359.5,146.4 360,145.8 360.5,146.6 361,147.1 361.5,146.9 362,146.4 362.5,146.6 363,147 363.5,145.3 364,146.5 364.5,146.7 365,146.7 365.5,147.1 366,146.8 366.5,146.3 367,146.2 367.5,146.2 368,145.3 368.5,144.8 369,143.8 369.5,141.9 370,137.4 370.5,133.4 371,129.9 371.5,128.6 372,128.8 372.5,132.5 373,135.4 373.5,139.6 374,142.5 374.5,144.7 375,145.8 375.5,145.1 376,145.6 376.5,146.3 377,145.9 377.5,145.6 378,146.8 378.5,146.6 379,146.7 379.5,146.3 380,147 380.5,146.5 381,147.1 381.5,146.2 382,146.3 382.5,146.8 383,146.4 383.5,147 384,146.8 384.5,146.3 385,146.8 385.5,146.6 386,147.2 386.5,146.5 387,146.6 387.5,147.3 388,147.8 388.5,147.7 389,146.8 389.5,146.9 390,147.5 390.5,146.7 391,146.4 391.5,146.9 392,147 392.5,146.4 393,146.1 393.5,146.2 394,147.1 394.5,146.5 395,146.7 395.5,146.9 396,147.1 396.5,146.7 397,147 397.5,146.4 398,146.5 398.5,146.1 399,146.8 399.5,146 400,145.1 400.5,144.7 401,144 401.5,143.8 402,142.3 402.5,142.3 403,142.8 403.5,144.6 404,144.5 404.5,144.8 405,145.8 405.5,146.9 406,146.2 406.5,146.4 407,147.2 407.5,147 408,147.1 408.5,146.6 409,147.7 409.5,147.6 410,147.1 410.5,147.1 411,145.9 411.5,147.1 412,146.7 412.5,147 413,147.1 413.5,146.6 414,146 414.5,147 415,146.5 415.5,146.6 416,146.5 416.5,146.6 417,145.7 417.5,147.3 418,146.9 418.5,147.3 419,147.7 419.5,146.8 420,146 420.5,146.4 421,146.2 421.5,146.5 422,146.8 422.5,145.9 423,146.9 423.5,146.1 424,146.9 424.5,146.7 425,146.6 425.5,146.7 426,146.5 426.5,146.5 427,146 427.5,146.7 428,147.6 428.5,147.6 429,147.3 429.5,147.1 430,146.4 430.5,147.4 431,146.7 431.5,146.7 432,146.6 432.5,146.8 433,146.5 433.5,146.7 434,146.2 434.5,146.6 435,147.8 435.5,146.7 436,146.6 436.5,147 437,147 437.5,146.2 438,146.6 438.5,147.1 439,146.8 439.5,146.8 440,147.4 440.5,146.4 441,146.7 441.5,146.5 442,147.4 442.5,145.8 443,146.4 443.5,146.5 444,147 444.5,147 445,147.3 445.5,146 446,147 446.5,146.6 447,146.4 447.5,146.9 448,146.3 448.5,145.7 449,146.5 449.5,146 450,146.4 450.5,146.8 451,146.8 451.5,147.4 452,146.6 452.5,146 453,146.3 453.5,146.3 454,146.1 454.5,146.9 455,146.4 455.5,145.8 456,147 456.5,146.6 457,146.8 457.5,146.7 458,146.9 458.5,146.7 459,147.2 459.5,146.8 460,146.8 460.5,146.8 461,146 461.5,146.6 462,146.5 462.5,146.7 463,146 463.5,147.4 464,146.7 464.5,146.1 465,145.8 465.5,146.5 466,146.5 466.5,146.2 467,146.4 467.5,145.9 468,146.2 468.5,145.3 469,145.1 469.5,145 470,145 470.5,142.7 471,142.3 471.5,141.6 472,142 472.5,141.1 473,141.7 473.5,142.3 474,142.5 474.5,143.2 475,144.2 475.5,144 476,144.8 476.5,145.7 477,146.2 477.5,146.3 478,145.7 478.5,146.3 479,146.9 479.5,146.8 480,146.5 480.5,146.2 481,146.9 481.5,146.3 482,146 482.5,146.2 483,147.2 483.5,146.7 484,147.1 484.5,146.4 485,147 485.5,146.3 486,146.5 486.5,147.7 487,146.9 487.5,146.3 488,146.5 488.5,146.7 489,147.1 489.5,146.3 490,145.8 490.5,146.4 491,146.6 491.5,146.6 492,147.1 492.5,146.7 493,146.9 493.5,146 494,146.9 494.5,147.5 495,146.9 495.5,146.6 496,146.6 496.5,147.3 497,146.1 497.5,146.5 498,146.7 498.5,146.9 499,146.3 499.5,146.7 500,146.4 500.5,146.6 501,146.5 501.5,146 502,146.5 502.5,146.9 503,146.1 503.5,146.4 504,146.8 504.5,146 505,146.6 505.5,146 506,147" stroke="#000" stroke-width="1.8"/>
</g>
<rect x="55.9" y="26.5" width="450.1" height="363.5" fill="none" stroke="#000" stroke-width="2.4"/>
<line x1="55.9" y1="390" x2="55.9" y2="396" stroke="#000" stroke-width="2"/>
<line x1="105.9" y1="390" x2="105.9" y2="393.5" stroke="#000" stroke-width="2"/>
<line x1="155.9" y1="390" x2="155.9" y2="396" stroke="#000" stroke-width="2"/>
<line x1="205.9" y1="390" x2="205.9" y2="393.5" stroke="#000" stroke-width="2"/>
<line x1="255.9" y1="390" x2="255.9" y2="396" stroke="#000" stroke-width="2"/>
<line x1="306" y1="390" x2="306" y2="393.5" stroke="#000" stroke-width="2"/>
<line x1="356" y1="390" x2="356" y2="396" stroke="#000" stroke-width="2"/>
<line x1="406" y1="390" x2="406" y2="393.5" stroke="#000" stroke-width="2"/>
<line x1="456" y1="390" x2="456" y2="396" stroke="#000" stroke-width="2"/>
<line x1="506" y1="390" x2="506" y2="393.5" stroke="#000" stroke-width="2"/>
<text transform="translate(55.9 420.8) scale(1.07 1)" font-size="23" text-anchor="middle" fill="#000" stroke="#000" stroke-width="0.5">20</text>
<text transform="translate(155.9 420.8) scale(1.07 1)" font-size="23" text-anchor="middle" fill="#000" stroke="#000" stroke-width="0.5">30</text>
<text transform="translate(255.9 420.8) scale(1.07 1)" font-size="23" text-anchor="middle" fill="#000" stroke="#000" stroke-width="0.5">40</text>
<text transform="translate(356 420.8) scale(1.07 1)" font-size="23" text-anchor="middle" fill="#000" stroke="#000" stroke-width="0.5">50</text>
<text transform="translate(456 420.8) scale(1.07 1)" font-size="23" text-anchor="middle" fill="#000" stroke="#000" stroke-width="0.5">60</text>
<text transform="translate(281 447) scale(1.05 1)" font-size="25" text-anchor="middle" fill="#000" stroke="#000" stroke-width="0.5">2&#952; (deg)</text>
<text transform="translate(28.6 207.3) rotate(-90) scale(1.01 1.04)" font-size="25.5" text-anchor="middle" fill="#000" stroke="#000" stroke-width="0.5">XRD intensity (a.u.)</text>
<text transform="translate(-1.2 32.3) scale(1.045 1)" font-size="42" text-anchor="start" fill="#000" stroke="#000" stroke-width="0">(a)</text>
<line x1="317" y1="52.4" x2="372" y2="52.4" stroke="#000" stroke-width="2"/>
<text transform="translate(378 61.3) scale(1.09 1)" font-size="22" text-anchor="start" fill="#000" stroke="#000" stroke-width="0.5">Glass/FTO</text>
<line x1="318" y1="169.8" x2="371" y2="169.8" stroke="#f01010" stroke-width="2"/>
<text transform="translate(378 178) scale(1.09 1)" font-size="22" text-anchor="start" fill="#000" stroke="#000" stroke-width="0.5">Glass/ITO</text>
<line x1="317" y1="288.9" x2="372" y2="288.9" stroke="#ef7f1a" stroke-width="2"/>
<text transform="translate(378 296.5) scale(1.09 1)" font-size="22" text-anchor="start" fill="#000" stroke="#000" stroke-width="0.5">PEN/ITO</text>
<g fill="#1a1a1a">
<text transform="translate(126.1 77.3) rotate(-90) scale(1.02 1.12)" font-size="16.2" text-anchor="start" fill="#2a2a2a" stroke="#2a2a2a" stroke-width="0.12" letter-spacing="1.9">(110)</text>
<text transform="translate(200.3 126.2) rotate(-90) scale(1.02 1.12)" font-size="16.2" text-anchor="start" fill="#2a2a2a" stroke="#2a2a2a" stroke-width="0.12" letter-spacing="1.9">(101)</text>
<text transform="translate(240.4 113) rotate(-90) scale(1.02 1.12)" font-size="16.2" text-anchor="start" fill="#2a2a2a" stroke="#2a2a2a" stroke-width="0.12" letter-spacing="1.9">(200)</text>
<text transform="translate(377.4 127.1) rotate(-90) scale(1.02 1.12)" font-size="16.2" text-anchor="start" fill="#2a2a2a" stroke="#2a2a2a" stroke-width="0.12" letter-spacing="1.9">(211)</text>
<text transform="translate(405.8 141) rotate(-90) scale(1.02 1.12)" font-size="16.2" text-anchor="start" fill="#2a2a2a" stroke="#2a2a2a" stroke-width="0.12" letter-spacing="1.9">(220)</text>
<text transform="translate(478.2 141) rotate(-90) scale(1.02 1.12)" font-size="16.2" text-anchor="start" fill="#2a2a2a" stroke="#2a2a2a" stroke-width="0.12" letter-spacing="1.9">(310)</text>
<text transform="translate(76 218.3) rotate(-90) scale(1.02 1.12)" font-size="16.2" text-anchor="start" fill="#2a2a2a" stroke="#2a2a2a" stroke-width="0.12" letter-spacing="1.9">(211)</text>
<text transform="translate(167.2 199.3) rotate(-90) scale(1.02 1.12)" font-size="16.2" text-anchor="start" fill="#2a2a2a" stroke="#2a2a2a" stroke-width="0.12" letter-spacing="1.9">(222)</text>
<text transform="translate(214.8 222.3) rotate(-90) scale(1.02 1.12)" font-size="16.2" text-anchor="start" fill="#2a2a2a" stroke="#2a2a2a" stroke-width="0.12" letter-spacing="1.9">(400)</text>
<text transform="translate(239.9 242.2) rotate(-90) scale(1.02 1.12)" font-size="16.2" text-anchor="start" fill="#2a2a2a" stroke="#2a2a2a" stroke-width="0.12" letter-spacing="1.9">(411)</text>
<text transform="translate(315.9 243.5) rotate(-90) scale(1.02 1.12)" font-size="16.2" text-anchor="start" fill="#2a2a2a" stroke="#2a2a2a" stroke-width="0.12" letter-spacing="1.9">(431)</text>
<text transform="translate(369.5 231.6) rotate(-90) scale(1.02 1.12)" font-size="16.2" text-anchor="start" fill="#2a2a2a" stroke="#2a2a2a" stroke-width="0.12" letter-spacing="1.9">(440)</text>
<text transform="translate(466.5 240.9) rotate(-90) scale(1.02 1.12)" font-size="16.2" text-anchor="start" fill="#2a2a2a" stroke="#2a2a2a" stroke-width="0.12" letter-spacing="1.9">(621)</text>
<text transform="translate(164.1 350.1) rotate(-90) scale(1.02 1.12)" font-size="16.2" text-anchor="start" fill="#2a2a2a" stroke="#2a2a2a" stroke-width="0.12" letter-spacing="1.9">(222)</text>
<text transform="translate(213.2 363.5) rotate(-90) scale(1.02 1.12)" font-size="16.2" text-anchor="start" fill="#2a2a2a" stroke="#2a2a2a" stroke-width="0.12" letter-spacing="1.9">(400)</text>
<text transform="translate(368.8 369.4) rotate(-90) scale(1.02 1.12)" font-size="16.2" text-anchor="start" fill="#2a2a2a" stroke="#2a2a2a" stroke-width="0.12" letter-spacing="1.9">(440)</text>
<text transform="translate(464 372.3) rotate(-90) scale(1.02 1.12)" font-size="16.2" text-anchor="start" fill="#2a2a2a" stroke="#2a2a2a" stroke-width="0.12" letter-spacing="1.9">(621)</text>
<text transform="translate(131.5 297) rotate(-90) scale(1.02 1.12)" font-size="16.2" text-anchor="start" fill="#2a2a2a" stroke="#2a2a2a" stroke-width="0.12" letter-spacing="1.9">PEN</text>
</g>
<defs><radialGradient id="gO" cx="0.38" cy="0.35" r="0.7"><stop offset="0" stop-color="#ffd27a"/><stop offset="0.45" stop-color="#f59a22"/><stop offset="1" stop-color="#d9700a"/></radialGradient><radialGradient id="gR" cx="0.38" cy="0.35" r="0.7"><stop offset="0" stop-color="#ff9a9a"/><stop offset="0.45" stop-color="#f01818"/><stop offset="1" stop-color="#b00000"/></radialGradient><radialGradient id="gK" cx="0.38" cy="0.35" r="0.7"><stop offset="0" stop-color="#9a9a9a"/><stop offset="0.4" stop-color="#141414"/><stop offset="1" stop-color="#000"/></radialGradient><filter id="blur1" x="-5%" y="-5%" width="110%" height="110%"><feGaussianBlur stdDeviation="1.9"/></filter><filter id="blur07" x="-5%" y="-5%" width="110%" height="110%"><feGaussianBlur stdDeviation="0.6"/></filter><filter id="blur05" x="-5%" y="-20%" width="110%" height="140%"><feGaussianBlur stdDeviation="0.45"/></filter></defs>
<g transform="translate(686.2 271.4)"><svg width="82.6" height="102.4" viewBox="0 0 83 103" preserveAspectRatio="none" overflow="hidden"><g filter="url(#blur1)"><rect x="-3" y="-3" width="89" height="109" fill="#33a4d2"/><polygon points="-3,-3 44,-3 44,16 -3,16" fill="#3791a8"/><polygon points="42,-3 66,-3 66,16 42,16" fill="#8e9a4e"/><polygon points="66,-3 86,-3 86,16 66,16" fill="#3aa8d2"/><polygon points="-3,15 13,15 13,33 -3,33" fill="#3f9898"/><polygon points="12,15 38,15 38,33 12,33" fill="#a2a45c"/><polygon points="36,15 40,15 38,33 34,33" fill="#c8d8b8"/><polygon points="40,15 66,15 66,33 40,33" fill="#8e9a48"/><polygon points="65,14 86,14 86,33 65,33" fill="#62a02a"/><polygon points="-3,33 37,33 37,72 -3,74" fill="#72b0ae"/><polygon points="36,33 66,33 66,71 36,72" fill="#94c2cc"/><polygon points="56,33 60,33 50,60 46,60" fill="#c8e4ea"/><polygon points="66,33 86,33 86,71 66,71" fill="#30a4d4"/><polygon points="-3,74 66,72 86,71 86,92 -3,92" fill="#5a8c1c"/><polygon points="-3,76 40,74 40,92 -3,92" fill="#3c6810"/><polygon points="20,80 34,80 30,88 22,88" fill="#7a9a62"/><polygon points="38,72 66,72 66,76 38,76" fill="#8e9a32"/><rect x="-3" y="92" width="89" height="14" fill="#2c92c4"/></g><g filter="url(#blur07)" opacity="0.85"><line x1="-3" y1="98" x2="86" y2="98" stroke="#a8bc46" stroke-width="2.2"/><line x1="36" y1="45.5" x2="86" y2="45.5" stroke="#c8cc40" stroke-width="1.8"/><line x1="45" y1="30" x2="45" y2="106" stroke="#d0c040" stroke-width="1.4"/></g><text x="6.5" y="15.2" font-family="'Liberation Serif', serif" font-weight="bold" font-size="14.5" fill="#0a2038" textLength="68" lengthAdjust="spacingAndGlyphs" filter="url(#blur05)">Glass/FTO</text></svg></g>
<g transform="translate(786.1 271.4)"><svg width="81.7" height="102.4" viewBox="0 0 83 103" preserveAspectRatio="none" overflow="hidden"><g filter="url(#blur1)"><rect x="-3" y="-3" width="89" height="109" fill="#2f9fcf"/><polygon points="-3,-3 86,-3 86,16 -3,16" fill="#2f98c6"/><polygon points="-3,16 15,16 15,34 -3,34" fill="#3a8ea8"/><polygon points="15,16 40,16 40,34 15,34" fill="#8aa874"/><polygon points="24,20 38,20 36,30 26,30" fill="#a8b478"/><polygon points="40,17 86,17 86,36 40,36" fill="#a3a022"/><polygon points="44,24 72,24 72,28 44,28" fill="#c6b838"/><polygon points="-3,34 20,34 20,106 -3,106" fill="#68aca2"/><polygon points="20,34 30,34 30,57 20,57" fill="#5aa8a0"/><polygon points="30,34 44,34 44,57 30,57" fill="#3a96b0"/><polygon points="32,34 36,34 36,57 32,57" fill="#6cb0c2"/><polygon points="44,36 60,36 60,66 44,66" fill="#5ab0d2"/><polygon points="60,36 86,36 86,66 60,66" fill="#34a6d8"/><polygon points="20,57 44,57 44,75 20,75" fill="#2a7a92"/><polygon points="44,66 86,66 86,75 44,75" fill="#2a88b8"/><polygon points="20,76 86,75 86,94 20,94" fill="#3a7410"/><polygon points="20,78 44,78 44,94 20,94" fill="#2c5c10"/><rect x="20" y="94" width="66" height="12" fill="#2a86c0"/></g><g filter="url(#blur07)" opacity="0.85"><line x1="28" y1="76.5" x2="86" y2="75.5" stroke="#b0a424" stroke-width="2.4"/><line x1="63" y1="20" x2="63" y2="106" stroke="#d0c040" stroke-width="1.4"/><line x1="18" y1="-3" x2="18" y2="106" stroke="#b8b848" stroke-width="1.1"/></g><text x="6.3" y="15.2" font-family="'Liberation Serif', serif" font-weight="bold" font-size="14.5" fill="#0a2038" textLength="65" lengthAdjust="spacingAndGlyphs" filter="url(#blur05)">Glass/ITO</text></svg></g>
<g transform="translate(885.1 271.4)"><svg width="82.6" height="102.4" viewBox="0 0 83 103" preserveAspectRatio="none" overflow="hidden"><g filter="url(#blur1)"><rect x="-3" y="-3" width="89" height="109" fill="#31a3d3"/><polygon points="-3,-3 12,-3 12,17 -3,17" fill="#1c6e4e"/><polygon points="12,-3 60,-3 60,16 12,16" fill="#2a8cae"/><polygon points="60,-3 86,-3 86,16 60,16" fill="#36a6d4"/><polygon points="-3,16 50,15 50,57 44,57 -3,80" fill="#68a698"/><polygon points="44,57 -3,80 -3,58" fill="#4a9888"/><polygon points="50,16 76,16 76,35 50,35" fill="#bccb88"/><polygon points="50,30 76,30 76,32 50,32" fill="#7a8a36"/><polygon points="76,16 86,16 86,35 76,35" fill="#9ac0a0"/><polygon points="50,35 58,35 58,57 50,57" fill="#78b4c8"/><polygon points="58,37 68,35 68,52 58,52" fill="#c4e6ee"/><polygon points="68,35 86,35 86,57 68,57" fill="#2ea0d0"/><polygon points="44,57 86,57 86,72 44,72" fill="#3a9ac0"/><polygon points="46,61 64,61 64,71 46,71" fill="#70b6cc"/><polygon points="-3,80 44,57 44,75 15,75 -3,86" fill="#1e6e84"/><polygon points="-3,80 15,76 15,106 -3,106" fill="#1a5c76"/><polygon points="15,75 44,75 44,94 15,94" fill="#28540e"/><polygon points="44,72 86,72 86,92 44,92" fill="#6a8c22"/><rect x="15" y="93" width="71" height="13" fill="#2a90c8"/><rect x="44" y="92" width="42" height="14" fill="#2a9ad0"/></g><g filter="url(#blur07)" opacity="0.85"><line x1="40" y1="59" x2="86" y2="59" stroke="#d0c040" stroke-width="1.6"/><line x1="27" y1="70" x2="27" y2="106" stroke="#9a7a30" stroke-width="1.3"/><line x1="77" y1="-3" x2="77" y2="106" stroke="#d0c040" stroke-width="1.4"/></g><text x="11" y="15.2" font-family="'Liberation Serif', serif" font-weight="bold" font-size="14.5" fill="#0a2038" textLength="60" lengthAdjust="spacingAndGlyphs" filter="url(#blur05)">PEN/ITO</text></svg></g>
<g fill="none" stroke-linejoin="round">
<polyline points="642.6,252 679.4,252 716.2,252.3 753,250.7 789.8,252.3 826.7,252.9 863.5,250.9 900.3,251.7 937.1,251.7 973.9,251.1 1010.7,251.7" stroke="#333" stroke-width="1.1"/>
<polyline points="642.6,235.6 679.4,235.7 716.2,234.3 753,235.6 789.8,235.6 826.7,236.6 863.5,234.4 900.3,235 937.1,235.1 973.9,235.1 1010.7,235.8" stroke="#f02020" stroke-width="1.1"/>
<polyline points="642.6,137.7 679.4,124.3 716.2,121.2 753,117 789.8,110.5 826.7,106.4 863.5,98.6 900.3,97.7 937.1,96.2 973.9,57 1010.7,41" stroke="#f08a20" stroke-width="1.2"/>
</g>
<circle cx="642.6" cy="252" r="4.3" fill="url(#gK)"/>
<circle cx="679.4" cy="252" r="4.3" fill="url(#gK)"/>
<circle cx="716.2" cy="252.3" r="4.3" fill="url(#gK)"/>
<circle cx="753" cy="250.7" r="4.3" fill="url(#gK)"/>
<circle cx="789.8" cy="252.3" r="4.3" fill="url(#gK)"/>
<circle cx="826.7" cy="252.9" r="4.3" fill="url(#gK)"/>
<circle cx="863.5" cy="250.9" r="4.3" fill="url(#gK)"/>
<circle cx="900.3" cy="251.7" r="4.3" fill="url(#gK)"/>
<circle cx="937.1" cy="251.7" r="4.3" fill="url(#gK)"/>
<circle cx="973.9" cy="251.1" r="4.3" fill="url(#gK)"/>
<circle cx="1010.7" cy="251.7" r="4.3" fill="url(#gK)"/>
<circle cx="642.6" cy="235.6" r="4.3" fill="url(#gR)"/>
<circle cx="679.4" cy="235.7" r="4.3" fill="url(#gR)"/>
<circle cx="716.2" cy="234.3" r="4.3" fill="url(#gR)"/>
<circle cx="753" cy="235.6" r="4.3" fill="url(#gR)"/>
<circle cx="789.8" cy="235.6" r="4.3" fill="url(#gR)"/>
<circle cx="826.7" cy="236.6" r="4.3" fill="url(#gR)"/>
<circle cx="863.5" cy="234.4" r="4.3" fill="url(#gR)"/>
<circle cx="900.3" cy="235" r="4.3" fill="url(#gR)"/>
<circle cx="937.1" cy="235.1" r="4.3" fill="url(#gR)"/>
<circle cx="973.9" cy="235.1" r="4.3" fill="url(#gR)"/>
<circle cx="1010.7" cy="235.8" r="4.3" fill="url(#gR)"/>
<circle cx="642.6" cy="137.7" r="4.3" fill="url(#gO)"/>
<circle cx="679.4" cy="124.3" r="4.3" fill="url(#gO)"/>
<circle cx="716.2" cy="121.2" r="4.3" fill="url(#gO)"/>
<circle cx="753" cy="117" r="4.3" fill="url(#gO)"/>
<circle cx="789.8" cy="110.5" r="4.3" fill="url(#gO)"/>
<circle cx="826.7" cy="106.4" r="4.3" fill="url(#gO)"/>
<circle cx="863.5" cy="98.6" r="4.3" fill="url(#gO)"/>
<circle cx="900.3" cy="97.7" r="4.3" fill="url(#gO)"/>
<circle cx="937.1" cy="96.2" r="4.3" fill="url(#gO)"/>
<circle cx="973.9" cy="57" r="4.3" fill="url(#gO)"/>
<circle cx="1010.7" cy="41" r="4.3" fill="url(#gO)"/>
<rect x="605.7" y="26.5" width="441.3" height="360.5" fill="none" stroke="#000" stroke-width="2.4"/>
<line x1="605.8" y1="387" x2="605.8" y2="390.5" stroke="#000" stroke-width="2"/>
<line x1="642.6" y1="387" x2="642.6" y2="393" stroke="#000" stroke-width="2"/>
<line x1="679.4" y1="387" x2="679.4" y2="390.5" stroke="#000" stroke-width="2"/>
<line x1="716.2" y1="387" x2="716.2" y2="393" stroke="#000" stroke-width="2"/>
<line x1="753" y1="387" x2="753" y2="390.5" stroke="#000" stroke-width="2"/>
<line x1="789.8" y1="387" x2="789.8" y2="393" stroke="#000" stroke-width="2"/>
<line x1="826.7" y1="387" x2="826.7" y2="390.5" stroke="#000" stroke-width="2"/>
<line x1="863.5" y1="387" x2="863.5" y2="393" stroke="#000" stroke-width="2"/>
<line x1="900.3" y1="387" x2="900.3" y2="390.5" stroke="#000" stroke-width="2"/>
<line x1="937.1" y1="387" x2="937.1" y2="393" stroke="#000" stroke-width="2"/>
<line x1="973.9" y1="387" x2="973.9" y2="390.5" stroke="#000" stroke-width="2"/>
<line x1="1010.7" y1="387" x2="1010.7" y2="393" stroke="#000" stroke-width="2"/>
<line x1="1047.5" y1="387" x2="1047.5" y2="390.5" stroke="#000" stroke-width="2"/>
<line x1="599.7" y1="387" x2="605.7" y2="387" stroke="#000" stroke-width="2"/>
<line x1="602.2" y1="360.2" x2="605.7" y2="360.2" stroke="#000" stroke-width="2"/>
<line x1="599.7" y1="333.5" x2="605.7" y2="333.5" stroke="#000" stroke-width="2"/>
<line x1="602.2" y1="306.8" x2="605.7" y2="306.8" stroke="#000" stroke-width="2"/>
<line x1="599.7" y1="280" x2="605.7" y2="280" stroke="#000" stroke-width="2"/>
<line x1="602.2" y1="253.2" x2="605.7" y2="253.2" stroke="#000" stroke-width="2"/>
<line x1="599.7" y1="226.5" x2="605.7" y2="226.5" stroke="#000" stroke-width="2"/>
<line x1="602.2" y1="199.8" x2="605.7" y2="199.8" stroke="#000" stroke-width="2"/>
<line x1="599.7" y1="173" x2="605.7" y2="173" stroke="#000" stroke-width="2"/>
<line x1="602.2" y1="146.2" x2="605.7" y2="146.2" stroke="#000" stroke-width="2"/>
<line x1="599.7" y1="119.5" x2="605.7" y2="119.5" stroke="#000" stroke-width="2"/>
<line x1="602.2" y1="92.8" x2="605.7" y2="92.8" stroke="#000" stroke-width="2"/>
<line x1="599.7" y1="66" x2="605.7" y2="66" stroke="#000" stroke-width="2"/>
<line x1="602.2" y1="39.2" x2="605.7" y2="39.2" stroke="#000" stroke-width="2"/>
<text transform="translate(642.6 417.4) scale(1.04 1)" font-size="23" text-anchor="middle" fill="#000" stroke="#000" stroke-width="0.5">0</text>
<text transform="translate(716.2 417.4) scale(1.04 1)" font-size="23" text-anchor="middle" fill="#000" stroke="#000" stroke-width="0.5">20</text>
<text transform="translate(789.8 417.4) scale(1.04 1)" font-size="23" text-anchor="middle" fill="#000" stroke="#000" stroke-width="0.5">40</text>
<text transform="translate(863.5 417.4) scale(1.04 1)" font-size="23" text-anchor="middle" fill="#000" stroke="#000" stroke-width="0.5">60</text>
<text transform="translate(937.1 417.4) scale(1.04 1)" font-size="23" text-anchor="middle" fill="#000" stroke="#000" stroke-width="0.5">80</text>
<text transform="translate(1010.7 417.4) scale(1.04 1)" font-size="23" text-anchor="middle" fill="#000" stroke="#000" stroke-width="0.5">100</text>
<text transform="translate(592.6 393.8) scale(1.04 1)" font-size="23" text-anchor="end" fill="#000" stroke="#000" stroke-width="0.5">0</text>
<text transform="translate(592.6 340.3) scale(1.04 1)" font-size="23" text-anchor="end" fill="#000" stroke="#000" stroke-width="0.5">4</text>
<text transform="translate(592.6 286.8) scale(1.04 1)" font-size="23" text-anchor="end" fill="#000" stroke="#000" stroke-width="0.5">8</text>
<text transform="translate(592.6 233.3) scale(1.04 1)" font-size="23" text-anchor="end" fill="#000" stroke="#000" stroke-width="0.5">12</text>
<text transform="translate(592.6 179.8) scale(1.04 1)" font-size="23" text-anchor="end" fill="#000" stroke="#000" stroke-width="0.5">16</text>
<text transform="translate(592.6 126.3) scale(1.04 1)" font-size="23" text-anchor="end" fill="#000" stroke="#000" stroke-width="0.5">20</text>
<text transform="translate(592.6 72.8) scale(1.04 1)" font-size="23" text-anchor="end" fill="#000" stroke="#000" stroke-width="0.5">24</text>
<text transform="translate(826.8 446.8) scale(1.035 1)" font-size="24.4" text-anchor="middle" fill="#000" stroke="#000" stroke-width="0.5">Cycling of paste and tear (Time)</text>
<text transform="translate(560.5 206.3) rotate(-90) scale(0.985 1.04)" font-size="25.5" text-anchor="middle" fill="#000" stroke="#000" stroke-width="0.5">Sheet Resistance (&#937; sq<tspan dy="-10" dx="2" font-size="12">-1</tspan><tspan dy="10" dx="5">)</tspan></text>
<text transform="translate(519.2 34.8) scale(1.06 1)" font-size="42" text-anchor="start" fill="#000" stroke="#000" stroke-width="0">(b)</text>
<text transform="translate(622.2 229) scale(0.98 1)" font-size="23" text-anchor="start" fill="#e81818" stroke="#e81818" stroke-width="0.5">11.35</text>
<text transform="translate(622.2 279.3) scale(0.98 1)" font-size="23" text-anchor="start" fill="#111" stroke="#111" stroke-width="0.5">10.09</text>
<text transform="translate(978.3 228.7) scale(0.98 1)" font-size="23" text-anchor="start" fill="#e81818" stroke="#e81818" stroke-width="0.5">11.38</text>
<text transform="translate(978.3 279.2) scale(0.98 1)" font-size="23" text-anchor="start" fill="#111" stroke="#111" stroke-width="0.5">10.11</text>
<text transform="translate(622.2 164.2) scale(0.96 1)" font-size="23" text-anchor="start" fill="#ea8420" stroke="#ea8420" stroke-width="0.5">18.64</text>
<text transform="translate(990 68.7) scale(0.98 1)" font-size="23" text-anchor="start" fill="#ea8420" stroke="#ea8420" stroke-width="0.5">25.87</text>
<line x1="845" y1="138" x2="895" y2="138" stroke="#333" stroke-width="1.2"/>
<circle cx="870.3" cy="138" r="4.3" fill="url(#gK)"/>
<text transform="translate(901.6 145.8) scale(1.08 1)" font-size="22" text-anchor="start" fill="#000" stroke="#000" stroke-width="0.5">Glass/FTO</text>
<line x1="845" y1="167.5" x2="895" y2="167.5" stroke="#f02020" stroke-width="1.2"/>
<circle cx="870.3" cy="167.5" r="4.3" fill="url(#gR)"/>
<text transform="translate(901.6 175.3) scale(1.08 1)" font-size="22" text-anchor="start" fill="#000" stroke="#000" stroke-width="0.5">Glass/ITO</text>
<line x1="845" y1="196.7" x2="895" y2="196.7" stroke="#f08a20" stroke-width="1.2"/>
<circle cx="870.3" cy="196.7" r="4.3" fill="url(#gO)"/>
<text transform="translate(901.6 204.5) scale(1.08 1)" font-size="22" text-anchor="start" fill="#000" stroke="#000" stroke-width="0.5">PEN/ITO</text>
<rect x="1163" y="41" width="434.8" height="350.5" fill="none" stroke="#000" stroke-width="2.4"/>
<g fill="none" stroke-linejoin="round">
<polyline points="1162.7,391.5 1163.1,391.5 1163.6,391.5 1164,391.5 1164.4,391.5 1164.9,391.5 1165.3,391.5 1165.7,391.5 1166.2,391.5 1166.6,391.5 1167.1,391.5 1167.5,391.5 1167.9,391.5 1168.4,391.5 1168.8,391.5 1169.2,391.5 1169.7,391.5 1170.1,391.5 1170.5,391.5 1171,391.5 1171.4,391.5 1171.8,391.5 1172.3,391.5 1172.7,391.5 1173.2,391.5 1173.6,391.5 1174,391.5 1174.5,391.5 1174.9,391.5 1175.3,391.5 1175.8,391.5 1176.2,391.5 1176.6,391.5 1177.1,391.5 1177.5,391.5 1178,391.5 1178.4,391.5 1178.8,391.5 1179.3,391.5 1179.7,391.5 1180.1,391.5 1180.6,391.5 1181,391.5 1181.4,391.5 1181.9,391.5 1182.3,391.5 1182.8,391.5 1183.2,391.5 1183.6,391.5 1184.1,391.5 1184.5,391.5 1184.9,391.5 1185.4,391.5 1185.8,391.5 1186.2,391.5 1186.7,391.5 1187.1,391.5 1187.5,391.5 1188,389.4 1188.4,382.9 1188.9,373.8 1189.3,364 1189.7,355.3 1190.2,347.8 1190.6,340.3 1191,332.8 1191.5,325.2 1191.9,317.6 1192.3,309.9 1192.8,302.2 1193.2,294.4 1193.7,286.6 1194.1,278.9 1194.5,271.2 1195,263.6 1195.4,256.1 1195.8,248.7 1196.3,241.6 1196.7,235.1 1197.1,229.5 1197.6,224.1 1198,217.9 1198.5,210.3 1198.9,198 1199.3,184 1199.8,175.4 1200.2,168.4 1200.6,162.5 1201.1,157 1201.5,151.7 1201.9,146.6 1202.4,141.9 1202.8,138.3 1203.2,135.7 1203.7,133.1 1204.1,131 1204.6,129.4 1205,127.9 1205.4,126.6 1205.9,125.1 1206.3,124.1 1206.7,123.2 1207.2,122 1207.6,121.1 1208,120.4 1208.5,119.6 1208.9,118.5 1209.4,117.5 1209.8,116.9 1210.2,116.3 1210.7,115.7 1211.1,115.2 1211.5,114.6 1212,114 1212.4,113.6 1212.8,112.9 1213.3,112.6 1213.7,112.1 1214.1,112.1 1214.6,111.4 1215,110.8 1215.5,110.4 1215.9,110.1 1216.3,109.6 1216.8,109.4 1217.2,109 1217.6,108.9 1218.1,108.4 1218.5,108 1218.9,107.7 1219.4,107.4 1219.8,107.2 1220.3,106.9 1220.7,106.8 1221.1,106.3 1221.6,106.2 1222,105.9 1222.4,105.6 1222.9,105.1 1223.3,104.9 1223.7,104.9 1224.2,104.8 1224.6,104.4 1225.1,104.2 1225.5,103.8 1225.9,103.6 1226.4,103.3 1226.8,103.3 1227.2,103 1227.7,102.7 1228.1,102.5 1228.5,102.4 1229,102.2 1229.4,101.9 1229.8,102 1230.3,101.6 1230.7,101.4 1231.2,101.4 1231.6,101.2 1232,100.9 1232.5,100.8 1232.9,100.5 1233.3,100.4 1233.8,100 1234.2,100.3 1234.6,99.8 1235.1,99.9 1235.5,99.6 1236,99.5 1236.4,99.4 1236.8,99.4 1237.3,99.3 1237.7,99.3 1238.1,99 1238.6,98.9 1239,98.6 1239.4,98.7 1239.9,98.5 1240.3,98.3 1240.8,98.3 1241.2,98.2 1241.6,98.1 1242.1,98 1242.5,97.8 1242.9,97.7 1243.4,97.7 1243.8,97.3 1244.2,97.4 1244.7,97.5 1245.1,96.9 1245.5,97.1 1246,97.1 1246.4,96.8 1246.9,97.2 1247.3,96.5 1247.7,96.9 1248.2,96.8 1248.6,96.6 1249,96.4 1249.5,96.4 1249.9,96.1 1250.3,96.3 1250.8,95.9 1251.2,96 1251.7,96 1252.1,95.7 1252.5,95.7 1253,95.7 1253.4,95.4 1253.8,95.6 1254.3,95.5 1254.7,95.2 1255.1,95.3 1255.6,95.1 1256,95 1256.5,95.1 1256.9,94.9 1257.3,95 1257.8,94.7 1258.2,94.9 1258.6,94.7 1259.1,94.7 1259.5,94.5 1259.9,94.4 1260.4,94.2 1260.8,94.4 1261.2,94.3 1261.7,95.5 1262.1,94.9 1262.6,94.2 1263,93.8 1263.4,94.1 1263.9,93.8 1264.3,94.6 1264.7,94.2 1265.2,93.1 1265.6,93.1 1266,94.3 1266.5,93.6 1266.9,93.2 1267.4,94 1267.8,93 1268.2,93 1268.7,92.8 1269.1,91.8 1269.5,93.5 1270,92.1 1270.4,92.5 1270.8,92.3 1271.3,93.1 1271.7,92.6 1272.2,92.6 1272.6,91.5 1273,92.4 1273.5,91.5 1273.9,92.5 1274.3,92.5 1274.8,92.2 1275.2,93.4 1275.6,92.4 1276.1,92.4 1276.5,92.1 1276.9,91.8 1277.4,92.4 1277.8,92.5 1278.3,90.9 1278.7,92.3 1279.1,91.9 1279.6,92.2 1280,91.8 1280.4,90.7 1280.9,90.7 1281.3,92.5 1281.7,91.4 1282.2,90.3 1282.6,91.4 1283.1,90.9 1283.5,89.9 1283.9,89.6 1284.4,89.9 1284.8,91 1285.2,90.8 1285.7,90.6 1286.1,90.9 1286.5,91 1287,89.3 1287.4,90.4 1287.9,90 1288.3,89.7 1288.7,90 1289.2,90.3 1289.6,90.2 1290,90 1290.5,90.1 1290.9,90.3 1291.3,89.9 1291.8,89.8 1292.2,90 1292.6,90 1293.1,89.9 1293.5,89.7 1294,89.9 1294.4,89.6 1294.8,89.5 1295.3,89.5 1295.7,89.5 1296.1,89.6 1296.6,89.5 1297,89.4 1297.4,89.4 1297.9,89.3 1298.3,89.3 1298.8,89 1299.2,88.9 1299.6,89.2 1300.1,88.8 1300.5,88.9 1300.9,88.9 1301.4,88.8 1301.8,88.8 1302.2,88.9 1302.7,88.4 1303.1,88.8 1303.6,88.9 1304,88.6 1304.4,88.5 1304.9,88.6 1305.3,88.6 1305.7,88.2 1306.2,88.3 1306.6,88.3 1307,88.3 1307.5,88.2 1307.9,88.2 1308.3,88.1 1308.8,88.1 1309.2,87.9 1309.7,87.9 1310.1,87.9 1310.5,87.9 1311,87.7 1311.4,88 1311.8,87.7 1312.3,87.5 1312.7,87.8 1313.1,87.5 1313.6,87.6 1314,87.5 1314.5,87.5 1314.9,87.5 1315.3,87.3 1315.8,87.4 1316.2,87.6 1316.6,87 1317.1,87.2 1317.5,87.2 1317.9,87 1318.4,86.9 1318.8,87.3 1319.2,87 1319.7,87.2 1320.1,87 1320.6,86.9 1321,86.9 1321.4,86.9 1321.9,86.9 1322.3,86.8 1322.7,86.7 1323.2,86.7 1323.6,86.8 1324,86.6 1324.5,86.4 1324.9,86.4 1325.4,86.5 1325.8,86.3 1326.2,86.3 1326.7,86.2 1327.1,86.2 1327.5,86.2 1328,86.3 1328.4,86.1 1328.8,86.3 1329.3,86 1329.7,86.3 1330.2,86 1330.6,85.9 1331,85.7 1331.5,85.4 1331.9,85.7 1332.3,85.7 1332.8,85.8 1333.2,85.4 1333.6,85.7 1334.1,85.4 1334.5,85.5 1334.9,85 1335.4,85.3 1335.8,85.2 1336.3,85.2 1336.7,85.1 1337.1,84.9 1337.6,85.1 1338,85 1338.4,85 1338.9,85 1339.3,84.9 1339.7,84.7 1340.2,84.5 1340.6,84.5 1341.1,84.7 1341.5,84.6 1341.9,84.5 1342.4,84.4 1342.8,84.4 1343.2,84.4 1343.7,84.3 1344.1,84.2 1344.5,84.5 1345,84.2 1345.4,84.1 1345.9,84 1346.3,84 1346.7,84.2 1347.2,84.1 1347.6,84 1348,84 1348.5,83.9 1348.9,83.8 1349.3,84.1 1349.8,83.9 1350.2,84.2 1350.6,83.8 1351.1,83.8 1351.5,83.9 1352,83.7 1352.4,83.6 1352.8,83.6 1353.3,83.7 1353.7,83.7 1354.1,83.6 1354.6,83.7 1355,83.7 1355.4,83.6 1355.9,83.6 1356.3,83.5 1356.8,83.6 1357.2,83.6 1357.6,83.5 1358.1,83.5 1358.5,83.4 1358.9,83.2 1359.4,83.3 1359.8,83.5 1360.2,83.4 1360.7,83.5 1361.1,83.3 1361.6,83.4 1362,83.4 1362.4,83.4 1362.9,83.2 1363.3,83.2 1363.7,83.2 1364.2,83.1 1364.6,83.2 1365,83.3 1365.5,83.1 1365.9,83.4 1366.3,83.1 1366.8,83.1 1367.2,83 1367.7,83 1368.1,83.1 1368.5,83 1369,83.2 1369.4,83.1 1369.8,83.1 1370.3,83 1370.7,82.8 1371.1,82.9 1371.6,82.8 1372,83 1372.5,82.9 1372.9,83.1 1373.3,83 1373.8,83 1374.2,82.9 1374.6,82.9 1375.1,82.9 1375.5,83 1375.9,82.4 1376.4,83.2 1376.8,84.5 1377.3,82.8 1377.7,82.7 1378.1,82.4 1378.6,81.9 1379,83.5 1379.4,82.8 1379.9,83 1380.3,83.9 1380.7,84.3 1381.2,82.2 1381.6,83.4 1382,83.2 1382.5,83 1382.9,83.1 1383.4,82.7 1383.8,83.7 1384.2,83.1 1384.7,82.9 1385.1,83.5 1385.5,83.3 1386,83 1386.4,82.9 1386.8,83.8 1387.3,83 1387.7,82.6 1388.2,82.2 1388.6,82.5 1389,82 1389.5,82.7 1389.9,82.8 1390.3,81.4 1390.8,82.7 1391.2,83.1 1391.6,82.8 1392.1,82.1 1392.5,83.4 1393,82.2 1393.4,81.9 1393.8,82 1394.3,82.6 1394.7,83.3 1395.1,83.4 1395.6,82.8 1396,81.9 1396.4,82.2 1396.9,82.1 1397.3,82.5 1397.7,81.5 1398.2,82.7 1398.6,83 1399.1,82.6 1399.5,82.9 1399.9,82.1 1400.4,81.7 1400.8,82.3 1401.2,83.4 1401.7,83.3 1402.1,82.4 1402.5,83.4 1403,82.5 1403.4,83.6 1403.9,83 1404.3,82.4 1404.7,83.2 1405.2,82.2 1405.6,82.1 1406,81.8 1406.5,82.9 1406.9,82.7 1407.3,82.7 1407.8,82.7 1408.2,82.9 1408.7,82.7 1409.1,82.7 1409.5,82.9 1410,82.9 1410.4,82.8 1410.8,82.6 1411.3,82.7 1411.7,82.9 1412.1,82.8 1412.6,83 1413,82.6 1413.4,82.9 1413.9,82.7 1414.3,83 1414.8,82.8 1415.2,83 1415.6,82.8 1416.1,82.7 1416.5,82.7 1416.9,82.8 1417.4,82.7 1417.8,83 1418.2,83 1418.7,82.9 1419.1,82.7 1419.6,82.8 1420,82.8 1420.4,83 1420.9,82.9 1421.3,82.9 1421.7,82.8 1422.2,82.6 1422.6,82.7 1423,82.7 1423.5,82.9 1423.9,82.8 1424.3,82.7 1424.8,82.8 1425.2,83 1425.7,82.7 1426.1,82.7 1426.5,82.8 1427,82.7 1427.4,82.8 1427.8,82.9 1428.3,83 1428.7,82.6 1429.1,82.8 1429.6,82.8 1430,82.8 1430.5,82.8 1430.9,82.8 1431.3,82.9 1431.8,82.7 1432.2,82.8 1432.6,82.8 1433.1,82.8 1433.5,82.8 1433.9,82.9 1434.4,82.8 1434.8,82.8 1435.3,82.8 1435.7,82.7 1436.1,82.7 1436.6,82.7 1437,82.8 1437.4,82.7 1437.9,82.7 1438.3,82.8 1438.7,82.8 1439.2,82.6 1439.6,83 1440,82.8 1440.5,82.8 1440.9,82.9 1441.4,82.8 1441.8,82.7 1442.2,83 1442.7,82.7 1443.1,82.8 1443.5,82.9 1444,82.7 1444.4,82.8 1444.8,82.8 1445.3,83.1 1445.7,82.7 1446.2,82.8 1446.6,82.9 1447,82.8 1447.5,82.6 1447.9,82.8 1448.3,82.8 1448.8,82.8 1449.2,82.9 1449.6,82.9 1450.1,82.8 1450.5,82.8 1451,82.6 1451.4,82.8 1451.8,82.8 1452.3,82.7 1452.7,82.8 1453.1,82.7 1453.6,83 1454,83 1454.4,82.7 1454.9,82.8 1455.3,82.8 1455.7,82.9 1456.2,82.8 1456.6,82.8 1457.1,82.8 1457.5,82.8 1457.9,82.7 1458.4,82.9 1458.8,82.7 1459.2,82.8 1459.7,82.8 1460.1,82.9 1460.5,82.8 1461,82.9 1461.4,82.7 1461.9,82.9 1462.3,82.8 1462.7,82.8 1463.2,82.8 1463.6,82.9 1464,82.5 1464.5,82.8 1464.9,82.6 1465.3,82.9 1465.8,82.6 1466.2,82.7 1466.7,82.6 1467.1,83 1467.5,82.6 1468,82.8 1468.4,82.7 1468.8,82.6 1469.3,82.7 1469.7,82.9 1470.1,82.8 1470.6,82.9 1471,82.7 1471.4,82.8 1471.9,82.7 1472.3,82.8 1472.8,83 1473.2,82.8 1473.6,82.8 1474.1,82.7 1474.5,82.7 1474.9,83 1475.4,82.7 1475.8,82.7 1476.2,82.8 1476.7,82.7 1477.1,83 1477.6,82.5 1478,82.8 1478.4,82.9 1478.9,82.7 1479.3,82.7 1479.7,82.8 1480.2,83 1480.6,82.7 1481,82.6 1481.5,82.9 1481.9,83 1482.4,82.8 1482.8,82.5 1483.2,83 1483.7,82.8 1484.1,83.5 1484.5,82.8 1485,82.6 1485.4,82.5 1485.8,83.7 1486.3,83.7 1486.7,81.5 1487.1,82.2 1487.6,83.9 1488,82.6 1488.5,82 1488.9,82.8 1489.3,82.7 1489.8,82.7 1490.2,82.5 1490.6,82.6 1491.1,82.5 1491.5,83 1491.9,82.3 1492.4,82.6 1492.8,82.7 1493.3,83.6 1493.7,83 1494.1,82.7 1494.6,83.1 1495,83.1 1495.4,83.5 1495.9,83.1 1496.3,83.9 1496.7,83.6 1497.2,82.8 1497.6,82.5 1498.1,83.4 1498.5,83.1 1498.9,82.7 1499.4,81.9 1499.8,81.7 1500.2,83 1500.7,83.3 1501.1,83.3 1501.5,82 1502,83.5 1502.4,82.5 1502.8,83 1503.3,83.1 1503.7,82.3 1504.2,82.4 1504.6,81.5 1505,82.2 1505.5,81.7 1505.9,83.1 1506.3,82.8 1506.8,83.4 1507.2,83 1507.6,82.4 1508.1,82.9 1508.5,82.8 1509,82.9 1509.4,82.8 1509.8,82.7 1510.3,82.8 1510.7,82.8 1511.1,82.8 1511.6,82.9 1512,83 1512.4,82.8 1512.9,82.8 1513.3,82.5 1513.8,82.8 1514.2,82.8 1514.6,82.6 1515.1,82.8 1515.5,82.9 1515.9,82.7 1516.4,82.8 1516.8,82.7 1517.2,82.9 1517.7,82.6 1518.1,82.8 1518.5,83.1 1519,82.8 1519.4,82.9 1519.9,82.8 1520.3,82.7 1520.7,82.8 1521.2,82.9 1521.6,82.7 1522,82.9 1522.5,83 1522.9,82.9 1523.3,82.6 1523.8,82.7 1524.2,81.8 1524.7,83.5 1525.1,83.2 1525.5,83.3 1526,82.3 1526.4,82.1 1526.8,82.9 1527.3,82.9 1527.7,82.3 1528.1,82.9 1528.6,83.2 1529,83 1529.5,82.2 1529.9,81.5 1530.3,82.7 1530.8,82.9 1531.2,82.7 1531.6,82.6 1532.1,82.4 1532.5,83.3 1532.9,82.8 1533.4,82.9 1533.8,82.2 1534.2,82.4 1534.7,82.9 1535.1,82.2 1535.6,82 1536,82.6 1536.4,83.6 1536.9,82.9 1537.3,83.7 1537.7,82.7 1538.2,82.6 1538.6,82 1539,82.5 1539.5,83.7 1539.9,83 1540.4,83.3 1540.8,83.3 1541.2,82.8 1541.7,82.7 1542.1,82.9 1542.5,83.2 1543,83.1 1543.4,83.1 1543.8,82.9 1544.3,82.4 1544.7,82.7 1545.1,82.2 1545.6,83.5 1546,81.5 1546.5,82.7 1546.9,84.3 1547.3,82.6 1547.8,82.1 1548.2,82.8 1548.6,83.6 1549.1,82.7 1549.5,83.2 1549.9,82.9 1550.4,82.6 1550.8,84.8 1551.3,82.9 1551.7,82.5 1552.1,82.5 1552.6,83.1 1553,83.1 1553.4,83.3 1553.9,82.9 1554.3,81.9 1554.7,83.2 1555.2,82.6 1555.6,82.7 1556.1,81.9 1556.5,82.5 1556.9,82.4 1557.4,82.8 1557.8,81.9 1558.2,82.9 1558.7,82.9 1559.1,82.1 1559.5,82.5 1560,82.3 1560.4,82.9 1560.8,82.5 1561.3,82.8 1561.7,82.6 1562.2,82.8 1562.6,82.9 1563,82.8 1563.5,82.9 1563.9,82.7 1564.3,83.1 1564.8,83 1565.2,83 1565.6,82.7 1566.1,82.2 1566.5,83.5 1567,82.7 1567.4,82.7 1567.8,83.1 1568.3,82.1 1568.7,83.3 1569.1,82.9 1569.6,83.1 1570,82.4 1570.4,83.2 1570.9,82.4 1571.3,83.4 1571.8,83.5 1572.2,83.4 1572.6,83.2 1573.1,83.2 1573.5,81.2 1573.9,83.4 1574.4,82.7 1574.8,82.9 1575.2,82.7 1575.7,82 1576.1,82.5 1576.5,83.3 1577,83.7 1577.4,82.5 1577.9,82.3 1578.3,83.7 1578.7,82.3 1579.2,84.1 1579.6,82.9 1580,82.3 1580.5,83.5 1580.9,83.9 1581.3,82 1581.8,83.8 1582.2,82.7 1582.7,83.8 1583.1,82.6 1583.5,81.9 1584,83.2 1584.4,83.4 1584.8,84.2 1585.3,83.9 1585.7,83.3 1586.1,82.7 1586.6,82.5 1587,82.7 1587.5,82.3 1587.9,82.7 1588.3,81.3 1588.8,83 1589.2,82.8 1589.6,84.4 1590.1,83.3 1590.5,82.6 1590.9,83.2 1591.4,82.1 1591.8,82.5 1592.2,81.7 1592.7,83.7 1593.1,83.2 1593.6,82.1 1594,82.8 1594.4,83.4 1594.9,83.2 1595.3,83.1 1595.7,82.3 1596.2,82.5 1596.6,82.9 1597,83.4 1597.5,82.3 1597.9,82.2 1598.4,83.6 1598.8,82.7" stroke="#111" stroke-width="2.1"/>
<polyline points="1162.7,391.5 1163.1,391.5 1163.6,391.5 1164,391.5 1164.4,391.5 1164.9,391.5 1165.3,391.5 1165.7,391.5 1166.2,391.5 1166.6,391.5 1167.1,391.5 1167.5,391.5 1167.9,391.5 1168.4,391.5 1168.8,391.5 1169.2,391.5 1169.7,391.5 1170.1,391.5 1170.5,391.5 1171,391.5 1171.4,391.5 1171.8,391.5 1172.3,391.5 1172.7,391.5 1173.2,391.5 1173.6,391.5 1174,391.5 1174.5,391.5 1174.9,391.5 1175.3,391.5 1175.8,391.5 1176.2,391.5 1176.6,391.5 1177.1,391.5 1177.5,391.5 1178,391.5 1178.4,391.5 1178.8,391.5 1179.3,391.5 1179.7,391.5 1180.1,391.5 1180.6,391.5 1181,391.5 1181.4,391.5 1181.9,391.5 1182.3,391.5 1182.8,391.5 1183.2,391.5 1183.6,391.5 1184.1,391.5 1184.5,391.5 1184.9,391.5 1185.4,391.5 1185.8,391.5 1186.2,391.5 1186.7,391.5 1187.1,391.5 1187.5,391.5 1188,391.5 1188.4,391.5 1188.9,389.8 1189.3,385.2 1189.7,378.5 1190.2,370.5 1190.6,361.9 1191,353.4 1191.5,345.9 1191.9,339.2 1192.3,332.3 1192.8,325.4 1193.2,318.4 1193.7,311.2 1194.1,303.9 1194.5,296.2 1195,288.1 1195.4,279.9 1195.8,271.8 1196.3,264.3 1196.7,257.4 1197.1,250.8 1197.6,244.6 1198,238.8 1198.5,233.8 1198.9,229.3 1199.3,225.1 1199.8,221.3 1200.2,217.7 1200.6,214.3 1201.1,211.2 1201.5,208.1 1201.9,205.2 1202.4,202.3 1202.8,199.5 1203.2,196.9 1203.7,194.5 1204.1,192.4 1204.6,190.6 1205,189.1 1205.4,187.7 1205.9,186.4 1206.3,185.3 1206.7,184.1 1207.2,183.1 1207.6,182.1 1208,181.2 1208.5,180.3 1208.9,179.4 1209.4,178.6 1209.8,177.9 1210.2,177.1 1210.7,176.4 1211.1,175.7 1211.5,174.9 1212,174.2 1212.4,173.6 1212.8,172.9 1213.3,172.2 1213.7,171.6 1214.1,171 1214.6,170.4 1215,169.8 1215.5,169.3 1215.9,168.8 1216.3,168.3 1216.8,167.9 1217.2,167.4 1217.6,167 1218.1,166.7 1218.5,166.4 1218.9,166.1 1219.4,165.8 1219.8,165.6 1220.3,165.3 1220.7,165.1 1221.1,164.9 1221.6,164.7 1222,164.4 1222.4,164.2 1222.9,163.9 1223.3,163.6 1223.7,163.3 1224.2,163 1224.6,162.6 1225.1,162.2 1225.5,161.9 1225.9,161.5 1226.4,161.1 1226.8,160.7 1227.2,160.3 1227.7,159.9 1228.1,159.4 1228.5,159 1229,158.6 1229.4,158.1 1229.8,157.7 1230.3,157.3 1230.7,156.8 1231.2,156.4 1231.6,156 1232,155.5 1232.5,155.1 1232.9,154.6 1233.3,154.2 1233.8,153.7 1234.2,153.3 1234.6,152.8 1235.1,152.3 1235.5,151.8 1236,151.3 1236.4,150.8 1236.8,150.3 1237.3,149.8 1237.7,149.3 1238.1,148.8 1238.6,148.2 1239,147.7 1239.4,147.1 1239.9,146.5 1240.3,145.9 1240.8,145.3 1241.2,144.6 1241.6,144 1242.1,143.3 1242.5,142.7 1242.9,142 1243.4,141.3 1243.8,140.6 1244.2,139.9 1244.7,139.2 1245.1,138.5 1245.5,137.9 1246,137.2 1246.4,136.5 1246.9,135.8 1247.3,135.1 1247.7,134.4 1248.2,133.7 1248.6,133 1249,132.3 1249.5,131.6 1249.9,130.9 1250.3,130.3 1250.8,129.7 1251.2,129.1 1251.7,128.5 1252.1,127.9 1252.5,127.3 1253,126.8 1253.4,126.2 1253.8,125.7 1254.3,125.2 1254.7,124.6 1255.1,124.1 1255.6,123.6 1256,123.1 1256.5,122.5 1256.9,122 1257.3,121.5 1257.8,120.9 1258.2,120.4 1258.6,119.9 1259.1,119.3 1259.5,118.7 1259.9,118.2 1260.4,117.6 1260.8,117 1261.2,116.4 1261.7,115.8 1262.1,115.2 1262.6,114.6 1263,114.1 1263.4,113.5 1263.9,113 1264.3,112.5 1264.7,112 1265.2,111.5 1265.6,111.1 1266,110.7 1266.5,110.3 1266.9,109.8 1267.4,109.4 1267.8,109 1268.2,108.6 1268.7,108.3 1269.1,107.9 1269.5,107.6 1270,107.3 1270.4,107 1270.8,106.8 1271.3,106.6 1271.7,106.5 1272.2,106.3 1272.6,106.2 1273,106 1273.5,105.9 1273.9,105.8 1274.3,105.7 1274.8,105.6 1275.2,105.5 1275.6,105.5 1276.1,105.5 1276.5,105.5 1276.9,105.5 1277.4,105.5 1277.8,105.5 1278.3,105.6 1278.7,105.6 1279.1,105.6 1279.6,105.7 1280,105.7 1280.4,105.8 1280.9,105.8 1281.3,105.8 1281.7,105.9 1282.2,106 1282.6,106.1 1283.1,106.2 1283.5,106.3 1283.9,106.5 1284.4,106.6 1284.8,106.8 1285.2,107 1285.7,107.1 1286.1,107.3 1286.5,107.5 1287,107.7 1287.4,107.9 1287.9,108.1 1288.3,108.3 1288.7,108.5 1289.2,108.7 1289.6,108.8 1290,109 1290.5,109.2 1290.9,109.3 1291.3,109.5 1291.8,109.6 1292.2,109.8 1292.6,110 1293.1,110.1 1293.5,110.3 1294,110.4 1294.4,110.6 1294.8,110.8 1295.3,110.9 1295.7,111.1 1296.1,111.2 1296.6,111.4 1297,111.6 1297.4,111.7 1297.9,111.9 1298.3,112.1 1298.8,112.2 1299.2,112.4 1299.6,112.6 1300.1,112.7 1300.5,112.9 1300.9,113.1 1301.4,113.2 1301.8,113.4 1302.2,113.6 1302.7,113.7 1303.1,113.9 1303.6,114.1 1304,114.3 1304.4,114.4 1304.9,114.6 1305.3,114.8 1305.7,115 1306.2,115.2 1306.6,115.4 1307,115.5 1307.5,115.7 1307.9,115.9 1308.3,116.1 1308.8,116.3 1309.2,116.5 1309.7,116.6 1310.1,116.8 1310.5,117 1311,117.2 1311.4,117.4 1311.8,117.5 1312.3,117.7 1312.7,117.8 1313.1,118 1313.6,118.2 1314,118.3 1314.5,118.5 1314.9,118.6 1315.3,118.7 1315.8,118.9 1316.2,119 1316.6,119.2 1317.1,119.3 1317.5,119.5 1317.9,119.6 1318.4,119.7 1318.8,119.9 1319.2,120 1319.7,120.1 1320.1,120.3 1320.6,120.4 1321,120.5 1321.4,120.7 1321.9,120.8 1322.3,120.9 1322.7,121 1323.2,121.1 1323.6,121.3 1324,121.4 1324.5,121.5 1324.9,121.6 1325.4,121.7 1325.8,121.8 1326.2,121.9 1326.7,122 1327.1,122.1 1327.5,122.2 1328,122.2 1328.4,122.3 1328.8,122.4 1329.3,122.5 1329.7,122.5 1330.2,122.6 1330.6,122.7 1331,122.8 1331.5,122.9 1331.9,122.9 1332.3,123 1332.8,123.1 1333.2,123.2 1333.6,123.2 1334.1,123.3 1334.5,123.4 1334.9,123.4 1335.4,123.5 1335.8,123.6 1336.3,123.6 1336.7,123.7 1337.1,123.7 1337.6,123.8 1338,123.8 1338.4,123.9 1338.9,123.9 1339.3,123.9 1339.7,124 1340.2,124 1340.6,124 1341.1,124 1341.5,124.1 1341.9,124.1 1342.4,124.1 1342.8,124.1 1343.2,124.1 1343.7,124 1344.1,124 1344.5,124 1345,124 1345.4,123.9 1345.9,123.9 1346.3,123.9 1346.7,123.8 1347.2,123.8 1347.6,123.7 1348,123.7 1348.5,123.6 1348.9,123.5 1349.3,123.5 1349.8,123.4 1350.2,123.3 1350.6,123.3 1351.1,123.2 1351.5,123.1 1352,123 1352.4,123 1352.8,122.9 1353.3,122.8 1353.7,122.7 1354.1,122.6 1354.6,122.5 1355,122.4 1355.4,122.3 1355.9,122.3 1356.3,122.2 1356.8,122.1 1357.2,122 1357.6,121.9 1358.1,121.8 1358.5,121.7 1358.9,121.6 1359.4,121.5 1359.8,121.4 1360.2,121.3 1360.7,121.2 1361.1,121.1 1361.6,121 1362,120.9 1362.4,120.7 1362.9,120.6 1363.3,120.5 1363.7,120.4 1364.2,120.2 1364.6,120.1 1365,119.9 1365.5,119.8 1365.9,119.6 1366.3,119.5 1366.8,119.3 1367.2,119.2 1367.7,119 1368.1,118.8 1368.5,118.7 1369,118.5 1369.4,118.4 1369.8,118.2 1370.3,118 1370.7,117.9 1371.1,117.7 1371.6,117.5 1372,117.3 1372.5,117.2 1372.9,117 1373.3,116.8 1373.8,116.7 1374.2,116.5 1374.6,116.3 1375.1,116.2 1375.5,116 1375.9,115.8 1376.4,115.7 1376.8,115.5 1377.3,115.3 1377.7,115.2 1378.1,115 1378.6,114.8 1379,114.6 1379.4,114.5 1379.9,114.3 1380.3,114.1 1380.7,114 1381.2,113.8 1381.6,113.6 1382,113.4 1382.5,113.2 1382.9,113.1 1383.4,112.9 1383.8,112.7 1384.2,112.5 1384.7,112.3 1385.1,112.1 1385.5,112 1386,111.8 1386.4,111.6 1386.8,111.4 1387.3,111.2 1387.7,111 1388.2,110.8 1388.6,110.6 1389,110.4 1389.5,110.2 1389.9,110.1 1390.3,109.9 1390.8,109.7 1391.2,109.5 1391.6,109.3 1392.1,109.1 1392.5,108.9 1393,108.7 1393.4,108.5 1393.8,108.3 1394.3,108.1 1394.7,107.9 1395.1,107.7 1395.6,107.5 1396,107.3 1396.4,107 1396.9,106.8 1397.3,106.6 1397.7,106.4 1398.2,106.1 1398.6,105.9 1399.1,105.7 1399.5,105.5 1399.9,105.2 1400.4,105 1400.8,104.8 1401.2,104.5 1401.7,104.3 1402.1,104.1 1402.5,103.8 1403,103.6 1403.4,103.4 1403.9,103.1 1404.3,102.9 1404.7,102.7 1405.2,102.5 1405.6,102.3 1406,102 1406.5,101.8 1406.9,101.6 1407.3,101.4 1407.8,101.2 1408.2,101 1408.7,100.8 1409.1,100.7 1409.5,100.5 1410,100.3 1410.4,100.1 1410.8,100 1411.3,99.8 1411.7,99.7 1412.1,99.5 1412.6,99.4 1413,99.2 1413.4,99.1 1413.9,98.9 1414.3,98.8 1414.8,98.6 1415.2,98.5 1415.6,98.3 1416.1,98.2 1416.5,98 1416.9,97.9 1417.4,97.8 1417.8,97.6 1418.2,97.5 1418.7,97.4 1419.1,97.2 1419.6,97.1 1420,97 1420.4,96.8 1420.9,96.7 1421.3,96.6 1421.7,96.5 1422.2,96.4 1422.6,96.2 1423,96.1 1423.5,96 1423.9,95.9 1424.3,95.8 1424.8,95.7 1425.2,95.6 1425.7,95.5 1426.1,95.4 1426.5,95.4 1427,95.3 1427.4,95.2 1427.8,95.1 1428.3,95 1428.7,95 1429.1,94.9 1429.6,94.8 1430,94.8 1430.5,94.7 1430.9,94.6 1431.3,94.6 1431.8,94.5 1432.2,94.4 1432.6,94.4 1433.1,94.3 1433.5,94.2 1433.9,94.2 1434.4,94.1 1434.8,94.1 1435.3,94 1435.7,93.9 1436.1,93.9 1436.6,93.8 1437,93.8 1437.4,93.7 1437.9,93.7 1438.3,93.6 1438.7,93.6 1439.2,93.5 1439.6,93.5 1440,93.4 1440.5,93.4 1440.9,93.4 1441.4,93.3 1441.8,93.3 1442.2,93.3 1442.7,93.3 1443.1,93.3 1443.5,93.2 1444,93.2 1444.4,93.2 1444.8,93.2 1445.3,93.2 1445.7,93.2 1446.2,93.2 1446.6,93.2 1447,93.2 1447.5,93.2 1447.9,93.2 1448.3,93.2 1448.8,93.2 1449.2,93.2 1449.6,93.2 1450.1,93.2 1450.5,93.2 1451,93.2 1451.4,93.2 1451.8,93.2 1452.3,93.2 1452.7,93.2 1453.1,93.2 1453.6,93.2 1454,93.2 1454.4,93.2 1454.9,93.2 1455.3,93.2 1455.7,93.2 1456.2,93.2 1456.6,93.2 1457.1,93.2 1457.5,93.2 1457.9,93.2 1458.4,93.2 1458.8,93.3 1459.2,93.3 1459.7,93.3 1460.1,93.3 1460.5,93.3 1461,93.4 1461.4,93.4 1461.9,93.4 1462.3,93.5 1462.7,93.5 1463.2,93.5 1463.6,93.6 1464,93.6 1464.5,93.7 1464.9,93.7 1465.3,93.8 1465.8,93.8 1466.2,93.9 1466.7,93.9 1467.1,94 1467.5,94 1468,94.1 1468.4,94.1 1468.8,94.2 1469.3,94.3 1469.7,94.3 1470.1,94.4 1470.6,94.5 1471,94.5 1471.4,94.6 1471.9,94.6 1472.3,94.7 1472.8,94.8 1473.2,94.8 1473.6,94.9 1474.1,95 1474.5,95 1474.9,95.1 1475.4,95.1 1475.8,95.2 1476.2,95.3 1476.7,95.3 1477.1,95.4 1477.6,95.4 1478,95.5 1478.4,95.6 1478.9,95.6 1479.3,95.7 1479.7,95.8 1480.2,95.8 1480.6,95.9 1481,96 1481.5,96.1 1481.9,96.1 1482.4,96.2 1482.8,96.3 1483.2,96.4 1483.7,96.4 1484.1,96.5 1484.5,96.6 1485,96.7 1485.4,96.8 1485.8,96.9 1486.3,96.9 1486.7,97 1487.1,97.1 1487.6,97.2 1488,97.3 1488.5,97.4 1488.9,97.4 1489.3,97.5 1489.8,97.6 1490.2,97.7 1490.6,97.8 1491.1,97.9 1491.5,98 1491.9,98.1 1492.4,98.2 1492.8,98.2 1493.3,98.3 1493.7,98.4 1494.1,98.5 1494.6,98.6 1495,98.7 1495.4,98.8 1495.9,98.9 1496.3,98.9 1496.7,99 1497.2,99.1 1497.6,99.2 1498.1,99.3 1498.5,99.4 1498.9,99.4 1499.4,99.5 1499.8,99.6 1500.2,99.7 1500.7,99.8 1501.1,99.8 1501.5,99.9 1502,100 1502.4,100.1 1502.8,100.1 1503.3,100.2 1503.7,100.3 1504.2,100.4 1504.6,100.4 1505,100.5 1505.5,100.6 1505.9,100.7 1506.3,100.7 1506.8,100.8 1507.2,100.9 1507.6,100.9 1508.1,101 1508.5,101.1 1509,101.2 1509.4,101.2 1509.8,101.3 1510.3,101.4 1510.7,101.4 1511.1,101.5 1511.6,101.6 1512,101.6 1512.4,101.7 1512.9,101.8 1513.3,101.9 1513.8,101.9 1514.2,102 1514.6,102.1 1515.1,102.1 1515.5,102.2 1515.9,102.3 1516.4,102.3 1516.8,102.4 1517.2,102.5 1517.7,102.5 1518.1,102.6 1518.5,102.7 1519,102.7 1519.4,102.8 1519.9,102.9 1520.3,102.9 1520.7,103 1521.2,103 1521.6,103.1 1522,103.2 1522.5,103.2 1522.9,103.3 1523.3,103.4 1523.8,103.4 1524.2,103.5 1524.7,103.5 1525.1,103.6 1525.5,103.6 1526,103.7 1526.4,103.8 1526.8,103.8 1527.3,103.9 1527.7,103.9 1528.1,104 1528.6,104 1529,104.1 1529.5,104.1 1529.9,104.2 1530.3,104.2 1530.8,104.3 1531.2,104.4 1531.6,104.4 1532.1,104.5 1532.5,104.5 1532.9,104.6 1533.4,104.6 1533.8,104.7 1534.2,104.7 1534.7,104.8 1535.1,104.8 1535.6,104.9 1536,104.9 1536.4,104.9 1536.9,105 1537.3,105 1537.7,105.1 1538.2,105.1 1538.6,105.2 1539,105.2 1539.5,105.3 1539.9,105.3 1540.4,105.4 1540.8,105.4 1541.2,105.5 1541.7,105.5 1542.1,105.5 1542.5,105.6 1543,105.6 1543.4,105.7 1543.8,105.7 1544.3,105.7 1544.7,105.8 1545.1,105.8 1545.6,105.9 1546,105.9 1546.5,105.9 1546.9,106 1547.3,106 1547.8,106 1548.2,106.1 1548.6,106.1 1549.1,106.2 1549.5,106.2 1549.9,106.2 1550.4,106.3 1550.8,106.3 1551.3,106.3 1551.7,106.3 1552.1,106.4 1552.6,106.4 1553,106.4 1553.4,106.5 1553.9,106.5 1554.3,106.5 1554.7,106.6 1555.2,106.6 1555.6,106.6 1556.1,106.7 1556.5,106.7 1556.9,106.7 1557.4,106.7 1557.8,106.8 1558.2,106.8 1558.7,106.8 1559.1,106.9 1559.5,106.9 1560,106.9 1560.4,106.9 1560.8,107 1561.3,107 1561.7,107 1562.2,107 1562.6,107.1 1563,107.1 1563.5,107.1 1563.9,107.1 1564.3,107.2 1564.8,107.2 1565.2,107.2 1565.6,107.2 1566.1,107.3 1566.5,107.3 1567,107.3 1567.4,107.3 1567.8,107.4 1568.3,107.4 1568.7,107.4 1569.1,107.4 1569.6,107.4 1570,107.5 1570.4,107.5 1570.9,107.5 1571.3,107.5 1571.8,107.6 1572.2,107.6 1572.6,107.6 1573.1,107.6 1573.5,107.6 1573.9,107.7 1574.4,107.7 1574.8,107.7 1575.2,107.7 1575.7,107.7 1576.1,107.8 1576.5,107.8 1577,107.8 1577.4,107.8 1577.9,107.8 1578.3,107.9 1578.7,107.9 1579.2,107.9 1579.6,107.9 1580,107.9 1580.5,108 1580.9,108 1581.3,108 1581.8,108 1582.2,108 1582.7,108.1 1583.1,108.1 1583.5,108.1 1584,108.1 1584.4,108.1 1584.8,108.1 1585.3,108.2 1585.7,108.2 1586.1,108.2 1586.6,108.2 1587,108.2 1587.5,108.3 1587.9,108.3 1588.3,108.3 1588.8,108.3 1589.2,108.3 1589.6,108.3 1590.1,108.4 1590.5,108.4 1590.9,108.4 1591.4,108.4 1591.8,108.4 1592.2,108.4 1592.7,108.4 1593.1,108.5 1593.6,108.5 1594,108.5 1594.4,108.5 1594.9,108.5 1595.3,108.5 1595.7,108.6 1596.2,108.6 1596.6,108.6 1597,108.6 1597.5,108.6 1597.9,108.6 1598.4,108.6 1598.8,108.6" stroke="#e23445" stroke-width="2"/>
<polyline points="1162.7,391.5 1163.1,391.5 1163.6,391.5 1164,391.5 1164.4,391.5 1164.9,391.5 1165.3,391.5 1165.7,391.5 1166.2,391.5 1166.6,391.5 1167.1,391.5 1167.5,391.5 1167.9,391.5 1168.4,391.5 1168.8,391.5 1169.2,391.5 1169.7,391.5 1170.1,391.5 1170.5,391.5 1171,391.5 1171.4,391.5 1171.8,391.5 1172.3,391.5 1172.7,391.5 1173.2,391.5 1173.6,391.5 1174,391.5 1174.5,391.5 1174.9,391.5 1175.3,391.5 1175.8,391.5 1176.2,391.5 1176.6,391.5 1177.1,391.5 1177.5,391.5 1178,391.5 1178.4,391.5 1178.8,391.5 1179.3,391.5 1179.7,391.5 1180.1,391.5 1180.6,391.5 1181,391.5 1181.4,391.5 1181.9,391.5 1182.3,391.5 1182.8,391.5 1183.2,391.5 1183.6,391.5 1184.1,391.5 1184.5,391.5 1184.9,391.5 1185.4,391.5 1185.8,391.5 1186.2,391.5 1186.7,391.5 1187.1,391.5 1187.5,391.5 1188,389.4 1188.4,382.9 1188.9,373.8 1189.3,364 1189.7,355.4 1190.2,347.9 1190.6,340.4 1191,332.9 1191.5,325.4 1191.9,317.8 1192.3,310.2 1192.8,302.5 1193.2,294.8 1193.7,287 1194.1,279.2 1194.5,271.6 1195,264.1 1195.4,256.6 1195.8,249.2 1196.3,242.1 1196.7,235.7 1197.1,230.1 1197.6,224.7 1198,218.6 1198.5,211 1198.9,198.7 1199.3,184.8 1199.8,176.2 1200.2,169.2 1200.6,163.3 1201.1,157.9 1201.5,152.6 1201.9,147.6 1202.4,143.1 1202.8,139.4 1203.2,136.6 1203.7,134.2 1204.1,132.2 1204.6,130.5 1205,129.1 1205.4,127.8 1205.9,126.6 1206.3,125.6 1206.7,124.6 1207.2,123.7 1207.6,122.8 1208,122 1208.5,121.2 1208.9,120.4 1209.4,119.7 1209.8,119 1210.2,118.3 1210.7,117.7 1211.1,117.1 1211.5,116.6 1212,116 1212.4,115.5 1212.8,115.1 1213.3,114.6 1213.7,114.2 1214.1,113.7 1214.6,113.3 1215,112.9 1215.5,112.5 1215.9,112.2 1216.3,111.8 1216.8,111.5 1217.2,111.1 1217.6,110.8 1218.1,110.4 1218.5,110.1 1218.9,109.8 1219.4,109.5 1219.8,109.2 1220.3,108.9 1220.7,108.6 1221.1,108.4 1221.6,108.1 1222,107.8 1222.4,107.6 1222.9,107.3 1223.3,107.1 1223.7,106.8 1224.2,106.6 1224.6,106.3 1225.1,106.1 1225.5,105.9 1225.9,105.6 1226.4,105.4 1226.8,105.2 1227.2,105 1227.7,104.7 1228.1,104.5 1228.5,104.3 1229,104.1 1229.4,103.9 1229.8,103.7 1230.3,103.6 1230.7,103.4 1231.2,103.2 1231.6,103.1 1232,102.9 1232.5,102.7 1232.9,102.6 1233.3,102.4 1233.8,102.3 1234.2,102.1 1234.6,102 1235.1,101.8 1235.5,101.7 1236,101.6 1236.4,101.4 1236.8,101.3 1237.3,101.2 1237.7,101 1238.1,100.9 1238.6,100.8 1239,100.7 1239.4,100.6 1239.9,100.4 1240.3,100.3 1240.8,100.2 1241.2,100.1 1241.6,100 1242.1,99.9 1242.5,99.8 1242.9,99.7 1243.4,99.6 1243.8,99.5 1244.2,99.4 1244.7,99.3 1245.1,99.2 1245.5,99.1 1246,99 1246.4,98.9 1246.9,98.8 1247.3,98.7 1247.7,98.6 1248.2,98.5 1248.6,98.5 1249,98.4 1249.5,98.3 1249.9,98.2 1250.3,98.1 1250.8,98 1251.2,97.9 1251.7,97.9 1252.1,97.8 1252.5,97.7 1253,97.6 1253.4,97.5 1253.8,97.4 1254.3,97.4 1254.7,97.3 1255.1,97.2 1255.6,97.1 1256,97.1 1256.5,97 1256.9,96.9 1257.3,96.8 1257.8,96.7 1258.2,96.7 1258.6,96.6 1259.1,96.5 1259.5,96.4 1259.9,96.4 1260.4,96.3 1260.8,96.2 1261.2,96.2 1261.7,96.1 1262.1,96 1262.6,95.9 1263,95.9 1263.4,95.8 1263.9,95.7 1264.3,95.7 1264.7,95.6 1265.2,95.5 1265.6,95.4 1266,95.4 1266.5,95.3 1266.9,95.2 1267.4,95.2 1267.8,95.1 1268.2,95 1268.7,95 1269.1,94.9 1269.5,94.9 1270,94.8 1270.4,94.7 1270.8,94.7 1271.3,94.6 1271.7,94.5 1272.2,94.5 1272.6,94.4 1273,94.4 1273.5,94.3 1273.9,94.2 1274.3,94.2 1274.8,94.1 1275.2,94 1275.6,94 1276.1,93.9 1276.5,93.9 1276.9,93.8 1277.4,93.8 1277.8,93.7 1278.3,93.6 1278.7,93.6 1279.1,93.5 1279.6,93.5 1280,93.4 1280.4,93.3 1280.9,93.3 1281.3,93.2 1281.7,93.2 1282.2,93.1 1282.6,93.1 1283.1,93 1283.5,92.9 1283.9,92.9 1284.4,92.8 1284.8,92.8 1285.2,92.7 1285.7,92.7 1286.1,92.6 1286.5,92.5 1287,92.5 1287.4,92.4 1287.9,92.4 1288.3,92.3 1288.7,92.3 1289.2,92.2 1289.6,92.2 1290,92.1 1290.5,92 1290.9,92 1291.3,91.9 1291.8,91.9 1292.2,91.8 1292.6,91.8 1293.1,91.7 1293.5,91.7 1294,91.6 1294.4,91.6 1294.8,91.5 1295.3,91.5 1295.7,91.4 1296.1,91.3 1296.6,91.3 1297,91.2 1297.4,91.2 1297.9,91.1 1298.3,91.1 1298.8,91 1299.2,91 1299.6,90.9 1300.1,90.9 1300.5,90.8 1300.9,90.8 1301.4,90.7 1301.8,90.7 1302.2,90.6 1302.7,90.6 1303.1,90.5 1303.6,90.5 1304,90.4 1304.4,90.4 1304.9,90.3 1305.3,90.3 1305.7,90.2 1306.2,90.2 1306.6,90.1 1307,90.1 1307.5,90 1307.9,90 1308.3,90 1308.8,89.9 1309.2,89.9 1309.7,89.8 1310.1,89.8 1310.5,89.7 1311,89.7 1311.4,89.6 1311.8,89.6 1312.3,89.6 1312.7,89.5 1313.1,89.5 1313.6,89.4 1314,89.4 1314.5,89.3 1314.9,89.3 1315.3,89.2 1315.8,89.2 1316.2,89.2 1316.6,89.1 1317.1,89.1 1317.5,89 1317.9,89 1318.4,88.9 1318.8,88.9 1319.2,88.9 1319.7,88.8 1320.1,88.8 1320.6,88.7 1321,88.7 1321.4,88.6 1321.9,88.6 1322.3,88.6 1322.7,88.5 1323.2,88.5 1323.6,88.4 1324,88.4 1324.5,88.3 1324.9,88.3 1325.4,88.2 1325.8,88.2 1326.2,88.2 1326.7,88.1 1327.1,88.1 1327.5,88 1328,88 1328.4,87.9 1328.8,87.9 1329.3,87.8 1329.7,87.8 1330.2,87.7 1330.6,87.7 1331,87.6 1331.5,87.6 1331.9,87.5 1332.3,87.5 1332.8,87.4 1333.2,87.3 1333.6,87.3 1334.1,87.2 1334.5,87.2 1334.9,87.1 1335.4,87.1 1335.8,87 1336.3,87 1336.7,86.9 1337.1,86.9 1337.6,86.8 1338,86.7 1338.4,86.7 1338.9,86.6 1339.3,86.6 1339.7,86.5 1340.2,86.5 1340.6,86.4 1341.1,86.4 1341.5,86.3 1341.9,86.3 1342.4,86.3 1342.8,86.2 1343.2,86.2 1343.7,86.1 1344.1,86.1 1344.5,86 1345,86 1345.4,86 1345.9,85.9 1346.3,85.9 1346.7,85.9 1347.2,85.8 1347.6,85.8 1348,85.8 1348.5,85.7 1348.9,85.7 1349.3,85.6 1349.8,85.6 1350.2,85.6 1350.6,85.5 1351.1,85.5 1351.5,85.5 1352,85.4 1352.4,85.4 1352.8,85.4 1353.3,85.3 1353.7,85.3 1354.1,85.3 1354.6,85.2 1355,85.2 1355.4,85.2 1355.9,85.1 1356.3,85.1 1356.8,85.1 1357.2,85 1357.6,85 1358.1,85 1358.5,85 1358.9,84.9 1359.4,84.9 1359.8,84.9 1360.2,84.8 1360.7,84.8 1361.1,84.8 1361.6,84.8 1362,84.7 1362.4,84.7 1362.9,84.7 1363.3,84.6 1363.7,84.6 1364.2,84.6 1364.6,84.6 1365,84.5 1365.5,84.5 1365.9,84.5 1366.3,84.5 1366.8,84.4 1367.2,84.4 1367.7,84.4 1368.1,84.4 1368.5,84.3 1369,84.3 1369.4,84.3 1369.8,84.3 1370.3,84.3 1370.7,84.2 1371.1,84.2 1371.6,84.2 1372,84.2 1372.5,84.2 1372.9,84.1 1373.3,84.1 1373.8,84.1 1374.2,84.1 1374.6,84.1 1375.1,84 1375.5,84 1375.9,84 1376.4,84 1376.8,84 1377.3,84 1377.7,83.9 1378.1,83.9 1378.6,83.9 1379,83.9 1379.4,83.9 1379.9,83.9 1380.3,83.8 1380.7,83.8 1381.2,83.8 1381.6,83.8 1382,83.8 1382.5,83.8 1382.9,83.8 1383.4,83.7 1383.8,83.7 1384.2,83.7 1384.7,83.7 1385.1,83.7 1385.5,83.7 1386,83.7 1386.4,83.6 1386.8,83.6 1387.3,83.6 1387.7,83.6 1388.2,83.6 1388.6,83.6 1389,83.6 1389.5,83.5 1389.9,83.5 1390.3,83.5 1390.8,83.5 1391.2,83.5 1391.6,83.5 1392.1,83.5 1392.5,83.5 1393,83.4 1393.4,83.4 1393.8,83.4 1394.3,83.4 1394.7,83.4 1395.1,83.4 1395.6,83.4 1396,83.4 1396.4,83.4 1396.9,83.3 1397.3,83.3 1397.7,83.3 1398.2,83.3 1398.6,83.3 1399.1,83.3 1399.5,83.3 1399.9,83.3 1400.4,83.3 1400.8,83.3 1401.2,83.3 1401.7,83.3 1402.1,83.3 1402.5,83.2 1403,83.2 1403.4,83.2 1403.9,83.2 1404.3,83.2 1404.7,83.2 1405.2,83.2 1405.6,83.2 1406,83.2 1406.5,83.2 1406.9,83.2 1407.3,83.2 1407.8,83.2 1408.2,83.2 1408.7,83.2 1409.1,83.2 1409.5,83.2 1410,83.2 1410.4,83.2 1410.8,83.2 1411.3,83.2 1411.7,83.2 1412.1,83.2 1412.6,83.2 1413,83.2 1413.4,83.2 1413.9,83.2 1414.3,83.2 1414.8,83.2 1415.2,83.2 1415.6,83.2 1416.1,83.2 1416.5,83.1 1416.9,83.1 1417.4,83.1 1417.8,83.1 1418.2,83.1 1418.7,83.1 1419.1,83.1 1419.6,83.1 1420,83.1 1420.4,83.1 1420.9,83.1 1421.3,83.1 1421.7,83.1 1422.2,83.1 1422.6,83.1 1423,83.1 1423.5,83.1 1423.9,83.1 1424.3,83.1 1424.8,83.1 1425.2,83.1 1425.7,83.1 1426.1,83.1 1426.5,83.1 1427,83.1 1427.4,83.1 1427.8,83.1 1428.3,83.1 1428.7,83.1 1429.1,83.1 1429.6,83.1 1430,83.1 1430.5,83.1 1430.9,83.1 1431.3,83.1 1431.8,83.1 1432.2,83.1 1432.6,83.1 1433.1,83.1 1433.5,83.1 1433.9,83.1 1434.4,83.1 1434.8,83.1 1435.3,83.1 1435.7,83.1 1436.1,83.1 1436.6,83.1 1437,83.1 1437.4,83.1 1437.9,83.1 1438.3,83.1 1438.7,83.1 1439.2,83.1 1439.6,83.1 1440,83.1 1440.5,83.1 1440.9,83.1 1441.4,83.1 1441.8,83.1 1442.2,83.1 1442.7,83.1 1443.1,83.1 1443.5,83.1 1444,83.1 1444.4,83.1 1444.8,83.1 1445.3,83.1 1445.7,83.1 1446.2,83.1 1446.6,83.1 1447,83.1 1447.5,83.1 1447.9,83.1 1448.3,83.1 1448.8,83.1 1449.2,83.1 1449.6,83.1 1450.1,83.1 1450.5,83.1 1451,83.1 1451.4,83.1 1451.8,83.1 1452.3,83.1 1452.7,83.1 1453.1,83.1 1453.6,83.1 1454,83.1 1454.4,83.1 1454.9,83.1 1455.3,83.1 1455.7,83.1 1456.2,83.1 1456.6,83.1 1457.1,83.1 1457.5,83.1 1457.9,83.1 1458.4,83.1 1458.8,83.1 1459.2,83.1 1459.7,83.1 1460.1,83.1 1460.5,83.1 1461,83.1 1461.4,83.1 1461.9,83.1 1462.3,83.1 1462.7,83.1 1463.2,83.1 1463.6,83.1 1464,83.1 1464.5,83.1 1464.9,83.1 1465.3,83.1 1465.8,83.1 1466.2,83.1 1466.7,83.1 1467.1,83.1 1467.5,83.1 1468,83.1 1468.4,83.1 1468.8,83.1 1469.3,83.1 1469.7,83.1 1470.1,83.1 1470.6,83.1 1471,83.1 1471.4,83.1 1471.9,83.1 1472.3,83.1 1472.8,83.1 1473.2,83.1 1473.6,83.1 1474.1,83.1 1474.5,83.1 1474.9,83.1 1475.4,83.1 1475.8,83.1 1476.2,83.1 1476.7,83.1 1477.1,83.1 1477.6,83.1 1478,83.1 1478.4,83.1 1478.9,83.1 1479.3,83.1 1479.7,83.1 1480.2,83.1 1480.6,83.1 1481,83.1 1481.5,83.1 1481.9,83.1 1482.4,83.1 1482.8,83.1 1483.2,83.1 1483.7,83.1 1484.1,83.1 1484.5,83.1 1485,83.1 1485.4,83.1 1485.8,83.1 1486.3,83.1 1486.7,83.1 1487.1,83.1 1487.6,83.1 1488,83.1 1488.5,83.1 1488.9,83.1 1489.3,83.1 1489.8,83.1 1490.2,83.1 1490.6,83.1 1491.1,83.1 1491.5,83.1 1491.9,83.1 1492.4,83.1 1492.8,83.1 1493.3,83.1 1493.7,83.1 1494.1,83.1 1494.6,83.1 1495,83.1 1495.4,83.1 1495.9,83.1 1496.3,83.1 1496.7,83.1 1497.2,83.1 1497.6,83.1 1498.1,83.1 1498.5,83.1 1498.9,83.1 1499.4,83.1 1499.8,83.1 1500.2,83.1 1500.7,83.1 1501.1,83.1 1501.5,83.1 1502,83.1 1502.4,83.1 1502.8,83.1 1503.3,83.1 1503.7,83.1 1504.2,83.1 1504.6,83.1 1505,83.1 1505.5,83.1 1505.9,83.1 1506.3,83.1 1506.8,83.1 1507.2,83.1 1507.6,83.1 1508.1,83.1 1508.5,83.1 1509,83.1 1509.4,83.1 1509.8,83.1 1510.3,83.1 1510.7,83.1 1511.1,83.1 1511.6,83.1 1512,83.1 1512.4,83.1 1512.9,83.1 1513.3,83.1 1513.8,83.1 1514.2,83.1 1514.6,83.1 1515.1,83.1 1515.5,83.1 1515.9,83.1 1516.4,83.1 1516.8,83.1 1517.2,83.1 1517.7,83.1 1518.1,83.1 1518.5,83.1 1519,83.1 1519.4,83.1 1519.9,83.1 1520.3,83.1 1520.7,83.1 1521.2,83.1 1521.6,83.1 1522,83.1 1522.5,83.1 1522.9,83.1 1523.3,83.1 1523.8,83.1 1524.2,83.1 1524.7,83.1 1525.1,83.1 1525.5,83.1 1526,83.1 1526.4,83.1 1526.8,83.1 1527.3,83.1 1527.7,83.1 1528.1,83.1 1528.6,83.1 1529,83.1 1529.5,83.1 1529.9,83.1 1530.3,83.1 1530.8,83.1 1531.2,83.1 1531.6,83.1 1532.1,83.1 1532.5,83.1 1532.9,83.1 1533.4,83.1 1533.8,83.1 1534.2,83.1 1534.7,83.1 1535.1,83.1 1535.6,83.1 1536,83.1 1536.4,83.1 1536.9,83.1 1537.3,83.1 1537.7,83.1 1538.2,83.1 1538.6,83.1 1539,83.1 1539.5,83.1 1539.9,83.1 1540.4,83.1 1540.8,83.1 1541.2,83.1 1541.7,83.1 1542.1,83.1 1542.5,83.1 1543,83.1 1543.4,83.1 1543.8,83.1 1544.3,83.1 1544.7,83.1 1545.1,83.1 1545.6,83.1 1546,83.1 1546.5,83.1 1546.9,83.1 1547.3,83.1 1547.8,83.1 1548.2,83.1 1548.6,83.1 1549.1,83.1 1549.5,83.1 1549.9,83.1 1550.4,83.1 1550.8,83.1 1551.3,83.1 1551.7,83.1 1552.1,83.1 1552.6,83.1 1553,83.1 1553.4,83.1 1553.9,83.1 1554.3,83.1 1554.7,83.1 1555.2,83.1 1555.6,83.1 1556.1,83.1 1556.5,83.1 1556.9,83.1 1557.4,83.1 1557.8,83.1 1558.2,83.1 1558.7,83.1 1559.1,83.1 1559.5,83.1 1560,83.1 1560.4,83.1 1560.8,83.1 1561.3,83.1 1561.7,83.1 1562.2,83.1 1562.6,83.1 1563,83.1 1563.5,83.1 1563.9,83.1 1564.3,83.1 1564.8,83.1 1565.2,83.1 1565.6,83.1 1566.1,83.1 1566.5,83.1 1567,83.1 1567.4,83.1 1567.8,83.1 1568.3,83.1 1568.7,83.1 1569.1,83.1 1569.6,83.1 1570,83.1 1570.4,83.1 1570.9,83.1 1571.3,83.1 1571.8,83.1 1572.2,83.1 1572.6,83.1 1573.1,83.1 1573.5,83.1 1573.9,83.1 1574.4,83.1 1574.8,83.1 1575.2,83.1 1575.7,83.1 1576.1,83.1 1576.5,83.1 1577,83.1 1577.4,83.1 1577.9,83.1 1578.3,83.1 1578.7,83.1 1579.2,83.1 1579.6,83.1 1580,83.1 1580.5,83.1 1580.9,83.1 1581.3,83.1 1581.8,83.1 1582.2,83.1 1582.7,83.1 1583.1,83.1 1583.5,83.1 1584,83.1 1584.4,83.1 1584.8,83.1 1585.3,83.1 1585.7,83.1 1586.1,83.1 1586.6,83.1 1587,83.1 1587.5,83.1 1587.9,83.1 1588.3,83.1 1588.8,83.1 1589.2,83.1 1589.6,83.1 1590.1,83.1 1590.5,83.1 1590.9,83.1 1591.4,83.1 1591.8,83.1 1592.2,83.1 1592.7,83.1 1593.1,83.1 1593.6,83.1 1594,83.1 1594.4,83.1 1594.9,83.1 1595.3,83.1 1595.7,83.1 1596.2,83.1 1596.6,83.1 1597,83.1 1597.5,83.1 1597.9,83.1 1598.4,83.1 1598.8,83.1" stroke="#f3901e" stroke-width="2.4"/>
</g>
<line x1="1162.7" y1="391.5" x2="1162.7" y2="395" stroke="#000" stroke-width="2"/>
<line x1="1206.3" y1="391.5" x2="1206.3" y2="397.5" stroke="#000" stroke-width="2"/>
<line x1="1249.9" y1="391.5" x2="1249.9" y2="395" stroke="#000" stroke-width="2"/>
<line x1="1293.5" y1="391.5" x2="1293.5" y2="397.5" stroke="#000" stroke-width="2"/>
<line x1="1337.1" y1="391.5" x2="1337.1" y2="395" stroke="#000" stroke-width="2"/>
<line x1="1380.7" y1="391.5" x2="1380.7" y2="397.5" stroke="#000" stroke-width="2"/>
<line x1="1424.3" y1="391.5" x2="1424.3" y2="395" stroke="#000" stroke-width="2"/>
<line x1="1468" y1="391.5" x2="1468" y2="397.5" stroke="#000" stroke-width="2"/>
<line x1="1511.6" y1="391.5" x2="1511.6" y2="395" stroke="#000" stroke-width="2"/>
<line x1="1555.2" y1="391.5" x2="1555.2" y2="397.5" stroke="#000" stroke-width="2"/>
<line x1="1598.8" y1="391.5" x2="1598.8" y2="395" stroke="#000" stroke-width="2"/>
<line x1="1157" y1="391.5" x2="1163" y2="391.5" stroke="#000" stroke-width="2"/>
<line x1="1159.5" y1="356.4" x2="1163" y2="356.4" stroke="#000" stroke-width="2"/>
<line x1="1157" y1="321.4" x2="1163" y2="321.4" stroke="#000" stroke-width="2"/>
<line x1="1159.5" y1="286.4" x2="1163" y2="286.4" stroke="#000" stroke-width="2"/>
<line x1="1157" y1="251.3" x2="1163" y2="251.3" stroke="#000" stroke-width="2"/>
<line x1="1159.5" y1="216.2" x2="1163" y2="216.2" stroke="#000" stroke-width="2"/>
<line x1="1157" y1="181.2" x2="1163" y2="181.2" stroke="#000" stroke-width="2"/>
<line x1="1159.5" y1="146.2" x2="1163" y2="146.2" stroke="#000" stroke-width="2"/>
<line x1="1157" y1="111.1" x2="1163" y2="111.1" stroke="#000" stroke-width="2"/>
<line x1="1159.5" y1="76.1" x2="1163" y2="76.1" stroke="#000" stroke-width="2"/>
<line x1="1157" y1="41" x2="1163" y2="41" stroke="#000" stroke-width="2"/>
<text transform="translate(1206.3 420.6) scale(1.03 1)" font-size="23" text-anchor="middle" fill="#000" stroke="#000" stroke-width="0.5">400</text>
<text transform="translate(1293.5 420.6) scale(1.03 1)" font-size="23" text-anchor="middle" fill="#000" stroke="#000" stroke-width="0.5">500</text>
<text transform="translate(1380.7 420.6) scale(1.03 1)" font-size="23" text-anchor="middle" fill="#000" stroke="#000" stroke-width="0.5">600</text>
<text transform="translate(1468 420.6) scale(1.03 1)" font-size="23" text-anchor="middle" fill="#000" stroke="#000" stroke-width="0.5">700</text>
<text transform="translate(1555.2 420.6) scale(1.03 1)" font-size="23" text-anchor="middle" fill="#000" stroke="#000" stroke-width="0.5">800</text>
<text transform="translate(1149.2 398.2) scale(1.03 1)" font-size="23" text-anchor="end" fill="#000" stroke="#000" stroke-width="0.5">0</text>
<text transform="translate(1149.2 328.1) scale(1.03 1)" font-size="23" text-anchor="end" fill="#000" stroke="#000" stroke-width="0.5">20</text>
<text transform="translate(1149.2 258) scale(1.03 1)" font-size="23" text-anchor="end" fill="#000" stroke="#000" stroke-width="0.5">40</text>
<text transform="translate(1149.2 187.9) scale(1.03 1)" font-size="23" text-anchor="end" fill="#000" stroke="#000" stroke-width="0.5">60</text>
<text transform="translate(1149.2 117.8) scale(1.03 1)" font-size="23" text-anchor="end" fill="#000" stroke="#000" stroke-width="0.5">80</text>
<text transform="translate(1149.2 47.7) scale(1.03 1)" font-size="23" text-anchor="end" fill="#000" stroke="#000" stroke-width="0.5">100</text>
<text transform="translate(1380.6 447.2) scale(1.02 1)" font-size="24.5" text-anchor="middle" fill="#000" stroke="#000" stroke-width="0.5">Wavelength (nm)</text>
<text transform="translate(1107 215.6) rotate(-90) scale(1.0 1.0)" font-size="25" text-anchor="middle" fill="#000" stroke="#000" stroke-width="0.5">Transmission (%)</text>
<text transform="translate(1058 35.8) scale(1.04 1)" font-size="42" text-anchor="start" fill="#000" stroke="#000" stroke-width="0">(c)</text>
<line x1="1277.7" y1="156.5" x2="1330" y2="156.5" stroke="#000" stroke-width="2"/>
<text transform="translate(1336 164.1) scale(1.04 1)" font-size="22.5" text-anchor="start" fill="#000" stroke="#000" stroke-width="0.5">PEN</text>
<line x1="1277.7" y1="185.8" x2="1330" y2="185.8" stroke="#e23445" stroke-width="2"/>
<text transform="translate(1336 193.4) scale(1.04 1)" font-size="22.5" text-anchor="start" fill="#000" stroke="#000" stroke-width="0.5">PEN/ITO</text>
<line x1="1277.7" y1="214.5" x2="1330" y2="214.5" stroke="#f3901e" stroke-width="2"/>
<text transform="translate(1336 222.1) scale(1.04 1)" font-size="22.5" text-anchor="start" fill="#000" stroke="#000" stroke-width="0.5">PEN/ITO/CBD-SnO<tspan font-size="15" dy="6">2</tspan><tspan dy="-6">-H</tspan></text>
</svg>
</body></html>
